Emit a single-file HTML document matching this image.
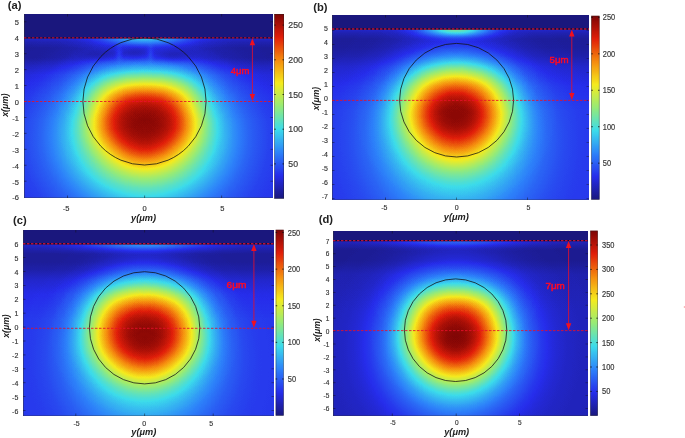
<!DOCTYPE html>
    <html><head><meta charset="utf-8"><title>Field distributions</title>
    <style>
    html,body{margin:0;padding:0;background:#fff;}
    body{width:685px;height:438px;overflow:hidden;}
    svg{display:block;font-family:"Liberation Sans", Arial, sans-serif;}
    </style></head><body>
    <svg width="685" height="438" viewBox="0 0 685 438">
    <defs>
    <filter id="jet" color-interpolation-filters="sRGB" x="0" y="0" width="1" height="1" filterUnits="objectBoundingBox">
    <feComponentTransfer>
    <feFuncR type="table" tableValues="0.1020 0.1490 0.1765 0.2353 0.5882 0.9608 0.9608 0.8824 0.4902"/>
    <feFuncG type="table" tableValues="0.0941 0.1765 0.5098 0.8627 0.9216 0.9216 0.5490 0.1176 0.0196"/>
    <feFuncB type="table" tableValues="0.4902 0.9216 0.9804 0.9216 0.4706 0.1176 0.0588 0.0392 0.0196"/>
    </feComponentTransfer>
    </filter>
    <clipPath id="cpa"><rect x="24.00" y="14.00" width="249.00" height="184.00"/></clipPath>
<linearGradient id="fla" gradientUnits="userSpaceOnUse" x1="0" y1="14.00" x2="0" y2="198.00"><stop offset="0.1299" stop-color="rgb(23,23,23)"/><stop offset="0.1522" stop-color="rgb(15,15,15)"/><stop offset="0.1848" stop-color="rgb(8,8,8)"/><stop offset="0.2391" stop-color="rgb(8,8,8)"/><stop offset="0.2826" stop-color="rgb(18,18,18)"/><stop offset="0.3315" stop-color="rgb(26,26,26)"/><stop offset="0.4402" stop-color="rgb(31,31,31)"/><stop offset="0.5761" stop-color="rgb(34,34,34)"/><stop offset="1.0022" stop-color="rgb(34,34,34)"/></linearGradient>
<radialGradient id="rga0" gradientUnits="userSpaceOnUse" cx="0.000" cy="0.280" r="4.000" fx="0.000" fy="0.000" gradientTransform="translate(144.80 130.50) scale(82.610 72.000) translate(0.00 0.00)"><stop offset="0.0000" stop-color="rgb(118,118,118)"/><stop offset="0.0208" stop-color="rgb(118,118,118)"/><stop offset="0.0417" stop-color="rgb(117,117,117)"/><stop offset="0.0625" stop-color="rgb(115,115,115)"/><stop offset="0.0833" stop-color="rgb(112,112,112)"/><stop offset="0.1042" stop-color="rgb(107,107,107)"/><stop offset="0.1250" stop-color="rgb(101,101,101)"/><stop offset="0.1458" stop-color="rgb(93,93,93)"/><stop offset="0.1667" stop-color="rgb(84,84,84)"/><stop offset="0.1875" stop-color="rgb(74,74,74)"/><stop offset="0.2083" stop-color="rgb(64,64,64)"/><stop offset="0.2292" stop-color="rgb(53,53,53)"/><stop offset="0.2500" stop-color="rgb(43,43,43)"/><stop offset="0.2708" stop-color="rgb(34,34,34)"/><stop offset="0.2917" stop-color="rgb(26,26,26)"/><stop offset="0.3125" stop-color="rgb(19,19,19)"/><stop offset="0.3333" stop-color="rgb(14,14,14)"/><stop offset="0.3542" stop-color="rgb(10,10,10)"/><stop offset="0.3750" stop-color="rgb(6,6,6)"/><stop offset="0.3958" stop-color="rgb(4,4,4)"/><stop offset="0.4167" stop-color="rgb(2,2,2)"/><stop offset="0.4375" stop-color="rgb(1,1,1)"/><stop offset="0.4583" stop-color="rgb(1,1,1)"/><stop offset="0.4792" stop-color="rgb(0,0,0)"/><stop offset="0.5000" stop-color="rgb(0,0,0)"/><stop offset="0.5208" stop-color="rgb(0,0,0)"/><stop offset="0.5417" stop-color="rgb(0,0,0)"/><stop offset="0.5625" stop-color="rgb(0,0,0)"/><stop offset="0.5833" stop-color="rgb(0,0,0)"/><stop offset="0.6042" stop-color="rgb(0,0,0)"/><stop offset="0.6250" stop-color="rgb(0,0,0)"/><stop offset="0.6458" stop-color="rgb(0,0,0)"/><stop offset="0.6667" stop-color="rgb(0,0,0)"/><stop offset="0.6875" stop-color="rgb(0,0,0)"/><stop offset="0.7083" stop-color="rgb(0,0,0)"/><stop offset="0.7292" stop-color="rgb(0,0,0)"/><stop offset="0.7500" stop-color="rgb(0,0,0)"/><stop offset="0.7708" stop-color="rgb(0,0,0)"/><stop offset="0.7917" stop-color="rgb(0,0,0)"/><stop offset="0.8125" stop-color="rgb(0,0,0)"/><stop offset="0.8333" stop-color="rgb(0,0,0)"/><stop offset="0.8542" stop-color="rgb(0,0,0)"/><stop offset="0.8750" stop-color="rgb(0,0,0)"/><stop offset="0.8958" stop-color="rgb(0,0,0)"/><stop offset="0.9167" stop-color="rgb(0,0,0)"/><stop offset="0.9375" stop-color="rgb(0,0,0)"/><stop offset="0.9583" stop-color="rgb(0,0,0)"/><stop offset="0.9792" stop-color="rgb(0,0,0)"/><stop offset="1.0000" stop-color="rgb(0,0,0)"/></radialGradient>
<radialGradient id="rga1" gradientUnits="userSpaceOnUse" cx="0.000" cy="0.000" r="4.000" fx="0.000" fy="0.000" gradientTransform="translate(144.80 123.50) scale(51.000 41.000) translate(0.00 0.00)"><stop offset="0.0000" stop-color="rgb(98,98,98)"/><stop offset="0.0208" stop-color="rgb(98,98,98)"/><stop offset="0.0417" stop-color="rgb(98,98,98)"/><stop offset="0.0625" stop-color="rgb(97,97,97)"/><stop offset="0.0833" stop-color="rgb(95,95,95)"/><stop offset="0.1042" stop-color="rgb(92,92,92)"/><stop offset="0.1250" stop-color="rgb(88,88,88)"/><stop offset="0.1458" stop-color="rgb(82,82,82)"/><stop offset="0.1667" stop-color="rgb(75,75,75)"/><stop offset="0.1875" stop-color="rgb(66,66,66)"/><stop offset="0.2083" stop-color="rgb(56,56,56)"/><stop offset="0.2292" stop-color="rgb(46,46,46)"/><stop offset="0.2500" stop-color="rgb(36,36,36)"/><stop offset="0.2708" stop-color="rgb(27,27,27)"/><stop offset="0.2917" stop-color="rgb(19,19,19)"/><stop offset="0.3125" stop-color="rgb(13,13,13)"/><stop offset="0.3333" stop-color="rgb(8,8,8)"/><stop offset="0.3542" stop-color="rgb(5,5,5)"/><stop offset="0.3750" stop-color="rgb(3,3,3)"/><stop offset="0.3958" stop-color="rgb(1,1,1)"/><stop offset="0.4167" stop-color="rgb(1,1,1)"/><stop offset="0.4375" stop-color="rgb(0,0,0)"/><stop offset="0.4583" stop-color="rgb(0,0,0)"/><stop offset="0.4792" stop-color="rgb(0,0,0)"/><stop offset="0.5000" stop-color="rgb(0,0,0)"/><stop offset="0.5208" stop-color="rgb(0,0,0)"/><stop offset="0.5417" stop-color="rgb(0,0,0)"/><stop offset="0.5625" stop-color="rgb(0,0,0)"/><stop offset="0.5833" stop-color="rgb(0,0,0)"/><stop offset="0.6042" stop-color="rgb(0,0,0)"/><stop offset="0.6250" stop-color="rgb(0,0,0)"/><stop offset="0.6458" stop-color="rgb(0,0,0)"/><stop offset="0.6667" stop-color="rgb(0,0,0)"/><stop offset="0.6875" stop-color="rgb(0,0,0)"/><stop offset="0.7083" stop-color="rgb(0,0,0)"/><stop offset="0.7292" stop-color="rgb(0,0,0)"/><stop offset="0.7500" stop-color="rgb(0,0,0)"/><stop offset="0.7708" stop-color="rgb(0,0,0)"/><stop offset="0.7917" stop-color="rgb(0,0,0)"/><stop offset="0.8125" stop-color="rgb(0,0,0)"/><stop offset="0.8333" stop-color="rgb(0,0,0)"/><stop offset="0.8542" stop-color="rgb(0,0,0)"/><stop offset="0.8750" stop-color="rgb(0,0,0)"/><stop offset="0.8958" stop-color="rgb(0,0,0)"/><stop offset="0.9167" stop-color="rgb(0,0,0)"/><stop offset="0.9375" stop-color="rgb(0,0,0)"/><stop offset="0.9583" stop-color="rgb(0,0,0)"/><stop offset="0.9792" stop-color="rgb(0,0,0)"/><stop offset="1.0000" stop-color="rgb(0,0,0)"/></radialGradient>
<radialGradient id="rgap0" gradientUnits="userSpaceOnUse" cx="0" cy="0" r="4.000" gradientTransform="translate(108.80 88.60) scale(30.000 22.000)"><stop offset="0.0000" stop-color="rgb(19,19,19)"/><stop offset="0.0312" stop-color="rgb(19,19,19)"/><stop offset="0.0625" stop-color="rgb(18,18,18)"/><stop offset="0.0938" stop-color="rgb(17,17,17)"/><stop offset="0.1250" stop-color="rgb(15,15,15)"/><stop offset="0.1562" stop-color="rgb(13,13,13)"/><stop offset="0.1875" stop-color="rgb(11,11,11)"/><stop offset="0.2188" stop-color="rgb(9,9,9)"/><stop offset="0.2500" stop-color="rgb(7,7,7)"/><stop offset="0.2812" stop-color="rgb(5,5,5)"/><stop offset="0.3125" stop-color="rgb(4,4,4)"/><stop offset="0.3438" stop-color="rgb(3,3,3)"/><stop offset="0.3750" stop-color="rgb(2,2,2)"/><stop offset="0.4062" stop-color="rgb(1,1,1)"/><stop offset="0.4375" stop-color="rgb(1,1,1)"/><stop offset="0.4688" stop-color="rgb(1,1,1)"/><stop offset="0.5000" stop-color="rgb(0,0,0)"/><stop offset="0.5312" stop-color="rgb(0,0,0)"/><stop offset="0.5625" stop-color="rgb(0,0,0)"/><stop offset="0.5938" stop-color="rgb(0,0,0)"/><stop offset="0.6250" stop-color="rgb(0,0,0)"/><stop offset="0.6562" stop-color="rgb(0,0,0)"/><stop offset="0.6875" stop-color="rgb(0,0,0)"/><stop offset="0.7188" stop-color="rgb(0,0,0)"/><stop offset="0.7500" stop-color="rgb(0,0,0)"/><stop offset="0.7812" stop-color="rgb(0,0,0)"/><stop offset="0.8125" stop-color="rgb(0,0,0)"/><stop offset="0.8438" stop-color="rgb(0,0,0)"/><stop offset="0.8750" stop-color="rgb(0,0,0)"/><stop offset="0.9062" stop-color="rgb(0,0,0)"/><stop offset="0.9375" stop-color="rgb(0,0,0)"/><stop offset="0.9688" stop-color="rgb(0,0,0)"/><stop offset="1.0000" stop-color="rgb(0,0,0)"/></radialGradient>
<radialGradient id="rgap1" gradientUnits="userSpaceOnUse" cx="0" cy="0" r="4.000" gradientTransform="translate(180.80 88.60) scale(30.000 22.000)"><stop offset="0.0000" stop-color="rgb(19,19,19)"/><stop offset="0.0312" stop-color="rgb(19,19,19)"/><stop offset="0.0625" stop-color="rgb(18,18,18)"/><stop offset="0.0938" stop-color="rgb(17,17,17)"/><stop offset="0.1250" stop-color="rgb(15,15,15)"/><stop offset="0.1562" stop-color="rgb(13,13,13)"/><stop offset="0.1875" stop-color="rgb(11,11,11)"/><stop offset="0.2188" stop-color="rgb(9,9,9)"/><stop offset="0.2500" stop-color="rgb(7,7,7)"/><stop offset="0.2812" stop-color="rgb(5,5,5)"/><stop offset="0.3125" stop-color="rgb(4,4,4)"/><stop offset="0.3438" stop-color="rgb(3,3,3)"/><stop offset="0.3750" stop-color="rgb(2,2,2)"/><stop offset="0.4062" stop-color="rgb(1,1,1)"/><stop offset="0.4375" stop-color="rgb(1,1,1)"/><stop offset="0.4688" stop-color="rgb(1,1,1)"/><stop offset="0.5000" stop-color="rgb(0,0,0)"/><stop offset="0.5312" stop-color="rgb(0,0,0)"/><stop offset="0.5625" stop-color="rgb(0,0,0)"/><stop offset="0.5938" stop-color="rgb(0,0,0)"/><stop offset="0.6250" stop-color="rgb(0,0,0)"/><stop offset="0.6562" stop-color="rgb(0,0,0)"/><stop offset="0.6875" stop-color="rgb(0,0,0)"/><stop offset="0.7188" stop-color="rgb(0,0,0)"/><stop offset="0.7500" stop-color="rgb(0,0,0)"/><stop offset="0.7812" stop-color="rgb(0,0,0)"/><stop offset="0.8125" stop-color="rgb(0,0,0)"/><stop offset="0.8438" stop-color="rgb(0,0,0)"/><stop offset="0.8750" stop-color="rgb(0,0,0)"/><stop offset="0.9062" stop-color="rgb(0,0,0)"/><stop offset="0.9375" stop-color="rgb(0,0,0)"/><stop offset="0.9688" stop-color="rgb(0,0,0)"/><stop offset="1.0000" stop-color="rgb(0,0,0)"/></radialGradient>
<radialGradient id="rgap2" gradientUnits="userSpaceOnUse" cx="0" cy="0" r="4.000" gradientTransform="translate(108.80 148.60) scale(30.000 18.000)"><stop offset="0.0000" stop-color="#000" stop-opacity="0.040"/><stop offset="0.0312" stop-color="#000" stop-opacity="0.039"/><stop offset="0.0625" stop-color="#000" stop-opacity="0.038"/><stop offset="0.0938" stop-color="#000" stop-opacity="0.035"/><stop offset="0.1250" stop-color="#000" stop-opacity="0.031"/><stop offset="0.1562" stop-color="#000" stop-opacity="0.027"/><stop offset="0.1875" stop-color="#000" stop-opacity="0.023"/><stop offset="0.2188" stop-color="#000" stop-opacity="0.019"/><stop offset="0.2500" stop-color="#000" stop-opacity="0.015"/><stop offset="0.2812" stop-color="#000" stop-opacity="0.011"/><stop offset="0.3125" stop-color="#000" stop-opacity="0.008"/><stop offset="0.3438" stop-color="#000" stop-opacity="0.006"/><stop offset="0.3750" stop-color="#000" stop-opacity="0.004"/><stop offset="0.4062" stop-color="#000" stop-opacity="0.003"/><stop offset="0.4375" stop-color="#000" stop-opacity="0.002"/><stop offset="0.4688" stop-color="#000" stop-opacity="0.001"/><stop offset="0.5000" stop-color="#000" stop-opacity="0.001"/><stop offset="0.5312" stop-color="#000" stop-opacity="0.000"/><stop offset="0.5625" stop-color="#000" stop-opacity="0.000"/><stop offset="0.5938" stop-color="#000" stop-opacity="0.000"/><stop offset="0.6250" stop-color="#000" stop-opacity="0.000"/><stop offset="0.6562" stop-color="#000" stop-opacity="0.000"/><stop offset="0.6875" stop-color="#000" stop-opacity="0.000"/><stop offset="0.7188" stop-color="#000" stop-opacity="0.000"/><stop offset="0.7500" stop-color="#000" stop-opacity="0.000"/><stop offset="0.7812" stop-color="#000" stop-opacity="0.000"/><stop offset="0.8125" stop-color="#000" stop-opacity="0.000"/><stop offset="0.8438" stop-color="#000" stop-opacity="0.000"/><stop offset="0.8750" stop-color="#000" stop-opacity="0.000"/><stop offset="0.9062" stop-color="#000" stop-opacity="0.000"/><stop offset="0.9375" stop-color="#000" stop-opacity="0.000"/><stop offset="0.9688" stop-color="#000" stop-opacity="0.000"/><stop offset="1.0000" stop-color="#000" stop-opacity="0.000"/></radialGradient>
<radialGradient id="rgap3" gradientUnits="userSpaceOnUse" cx="0" cy="0" r="4.000" gradientTransform="translate(180.80 148.60) scale(30.000 18.000)"><stop offset="0.0000" stop-color="#000" stop-opacity="0.040"/><stop offset="0.0312" stop-color="#000" stop-opacity="0.039"/><stop offset="0.0625" stop-color="#000" stop-opacity="0.038"/><stop offset="0.0938" stop-color="#000" stop-opacity="0.035"/><stop offset="0.1250" stop-color="#000" stop-opacity="0.031"/><stop offset="0.1562" stop-color="#000" stop-opacity="0.027"/><stop offset="0.1875" stop-color="#000" stop-opacity="0.023"/><stop offset="0.2188" stop-color="#000" stop-opacity="0.019"/><stop offset="0.2500" stop-color="#000" stop-opacity="0.015"/><stop offset="0.2812" stop-color="#000" stop-opacity="0.011"/><stop offset="0.3125" stop-color="#000" stop-opacity="0.008"/><stop offset="0.3438" stop-color="#000" stop-opacity="0.006"/><stop offset="0.3750" stop-color="#000" stop-opacity="0.004"/><stop offset="0.4062" stop-color="#000" stop-opacity="0.003"/><stop offset="0.4375" stop-color="#000" stop-opacity="0.002"/><stop offset="0.4688" stop-color="#000" stop-opacity="0.001"/><stop offset="0.5000" stop-color="#000" stop-opacity="0.001"/><stop offset="0.5312" stop-color="#000" stop-opacity="0.000"/><stop offset="0.5625" stop-color="#000" stop-opacity="0.000"/><stop offset="0.5938" stop-color="#000" stop-opacity="0.000"/><stop offset="0.6250" stop-color="#000" stop-opacity="0.000"/><stop offset="0.6562" stop-color="#000" stop-opacity="0.000"/><stop offset="0.6875" stop-color="#000" stop-opacity="0.000"/><stop offset="0.7188" stop-color="#000" stop-opacity="0.000"/><stop offset="0.7500" stop-color="#000" stop-opacity="0.000"/><stop offset="0.7812" stop-color="#000" stop-opacity="0.000"/><stop offset="0.8125" stop-color="#000" stop-opacity="0.000"/><stop offset="0.8438" stop-color="#000" stop-opacity="0.000"/><stop offset="0.8750" stop-color="#000" stop-opacity="0.000"/><stop offset="0.9062" stop-color="#000" stop-opacity="0.000"/><stop offset="0.9375" stop-color="#000" stop-opacity="0.000"/><stop offset="0.9688" stop-color="#000" stop-opacity="0.000"/><stop offset="1.0000" stop-color="#000" stop-opacity="0.000"/></radialGradient>
<radialGradient id="rgap4" gradientUnits="userSpaceOnUse" cx="0" cy="0" r="4.000" gradientTransform="translate(144.80 54.00) scale(70.000 7.000)"><stop offset="0.0000" stop-color="#000" stop-opacity="0.220"/><stop offset="0.0312" stop-color="#000" stop-opacity="0.219"/><stop offset="0.0625" stop-color="#000" stop-opacity="0.213"/><stop offset="0.0938" stop-color="#000" stop-opacity="0.202"/><stop offset="0.1250" stop-color="#000" stop-opacity="0.184"/><stop offset="0.1562" stop-color="#000" stop-opacity="0.162"/><stop offset="0.1875" stop-color="#000" stop-opacity="0.135"/><stop offset="0.2188" stop-color="#000" stop-opacity="0.107"/><stop offset="0.2500" stop-color="#000" stop-opacity="0.081"/><stop offset="0.2812" stop-color="#000" stop-opacity="0.057"/><stop offset="0.3125" stop-color="#000" stop-opacity="0.038"/><stop offset="0.3438" stop-color="#000" stop-opacity="0.024"/><stop offset="0.3750" stop-color="#000" stop-opacity="0.014"/><stop offset="0.4062" stop-color="#000" stop-opacity="0.008"/><stop offset="0.4375" stop-color="#000" stop-opacity="0.004"/><stop offset="0.4688" stop-color="#000" stop-opacity="0.002"/><stop offset="0.5000" stop-color="#000" stop-opacity="0.001"/><stop offset="0.5312" stop-color="#000" stop-opacity="0.000"/><stop offset="0.5625" stop-color="#000" stop-opacity="0.000"/><stop offset="0.5938" stop-color="#000" stop-opacity="0.000"/><stop offset="0.6250" stop-color="#000" stop-opacity="0.000"/><stop offset="0.6562" stop-color="#000" stop-opacity="0.000"/><stop offset="0.6875" stop-color="#000" stop-opacity="0.000"/><stop offset="0.7188" stop-color="#000" stop-opacity="0.000"/><stop offset="0.7500" stop-color="#000" stop-opacity="0.000"/><stop offset="0.7812" stop-color="#000" stop-opacity="0.000"/><stop offset="0.8125" stop-color="#000" stop-opacity="0.000"/><stop offset="0.8438" stop-color="#000" stop-opacity="0.000"/><stop offset="0.8750" stop-color="#000" stop-opacity="0.000"/><stop offset="0.9062" stop-color="#000" stop-opacity="0.000"/><stop offset="0.9375" stop-color="#000" stop-opacity="0.000"/><stop offset="0.9688" stop-color="#000" stop-opacity="0.000"/><stop offset="1.0000" stop-color="#000" stop-opacity="0.000"/></radialGradient>
<radialGradient id="rgap5" gradientUnits="userSpaceOnUse" cx="0" cy="0" r="4.000" gradientTransform="translate(99.00 54.50) scale(16.000 5.000)"><stop offset="0.0000" stop-color="#000" stop-opacity="0.300"/><stop offset="0.0312" stop-color="#000" stop-opacity="0.295"/><stop offset="0.0625" stop-color="#000" stop-opacity="0.282"/><stop offset="0.0938" stop-color="#000" stop-opacity="0.261"/><stop offset="0.1250" stop-color="#000" stop-opacity="0.234"/><stop offset="0.1562" stop-color="#000" stop-opacity="0.203"/><stop offset="0.1875" stop-color="#000" stop-opacity="0.171"/><stop offset="0.2188" stop-color="#000" stop-opacity="0.140"/><stop offset="0.2500" stop-color="#000" stop-opacity="0.110"/><stop offset="0.2812" stop-color="#000" stop-opacity="0.085"/><stop offset="0.3125" stop-color="#000" stop-opacity="0.063"/><stop offset="0.3438" stop-color="#000" stop-opacity="0.045"/><stop offset="0.3750" stop-color="#000" stop-opacity="0.032"/><stop offset="0.4062" stop-color="#000" stop-opacity="0.021"/><stop offset="0.4375" stop-color="#000" stop-opacity="0.014"/><stop offset="0.4688" stop-color="#000" stop-opacity="0.009"/><stop offset="0.5000" stop-color="#000" stop-opacity="0.005"/><stop offset="0.5312" stop-color="#000" stop-opacity="0.003"/><stop offset="0.5625" stop-color="#000" stop-opacity="0.002"/><stop offset="0.5938" stop-color="#000" stop-opacity="0.001"/><stop offset="0.6250" stop-color="#000" stop-opacity="0.001"/><stop offset="0.6562" stop-color="#000" stop-opacity="0.000"/><stop offset="0.6875" stop-color="#000" stop-opacity="0.000"/><stop offset="0.7188" stop-color="#000" stop-opacity="0.000"/><stop offset="0.7500" stop-color="#000" stop-opacity="0.000"/><stop offset="0.7812" stop-color="#000" stop-opacity="0.000"/><stop offset="0.8125" stop-color="#000" stop-opacity="0.000"/><stop offset="0.8438" stop-color="#000" stop-opacity="0.000"/><stop offset="0.8750" stop-color="#000" stop-opacity="0.000"/><stop offset="0.9062" stop-color="#000" stop-opacity="0.000"/><stop offset="0.9375" stop-color="#000" stop-opacity="0.000"/><stop offset="0.9688" stop-color="#000" stop-opacity="0.000"/><stop offset="1.0000" stop-color="#000" stop-opacity="0.000"/></radialGradient>
<radialGradient id="rgap6" gradientUnits="userSpaceOnUse" cx="0" cy="0" r="4.000" gradientTransform="translate(135.00 52.50) scale(12.000 5.000)"><stop offset="0.0000" stop-color="#000" stop-opacity="0.350"/><stop offset="0.0312" stop-color="#000" stop-opacity="0.345"/><stop offset="0.0625" stop-color="#000" stop-opacity="0.329"/><stop offset="0.0938" stop-color="#000" stop-opacity="0.304"/><stop offset="0.1250" stop-color="#000" stop-opacity="0.273"/><stop offset="0.1562" stop-color="#000" stop-opacity="0.237"/><stop offset="0.1875" stop-color="#000" stop-opacity="0.199"/><stop offset="0.2188" stop-color="#000" stop-opacity="0.163"/><stop offset="0.2500" stop-color="#000" stop-opacity="0.129"/><stop offset="0.2812" stop-color="#000" stop-opacity="0.099"/><stop offset="0.3125" stop-color="#000" stop-opacity="0.073"/><stop offset="0.3438" stop-color="#000" stop-opacity="0.053"/><stop offset="0.3750" stop-color="#000" stop-opacity="0.037"/><stop offset="0.4062" stop-color="#000" stop-opacity="0.025"/><stop offset="0.4375" stop-color="#000" stop-opacity="0.016"/><stop offset="0.4688" stop-color="#000" stop-opacity="0.010"/><stop offset="0.5000" stop-color="#000" stop-opacity="0.006"/><stop offset="0.5312" stop-color="#000" stop-opacity="0.004"/><stop offset="0.5625" stop-color="#000" stop-opacity="0.002"/><stop offset="0.5938" stop-color="#000" stop-opacity="0.001"/><stop offset="0.6250" stop-color="#000" stop-opacity="0.001"/><stop offset="0.6562" stop-color="#000" stop-opacity="0.000"/><stop offset="0.6875" stop-color="#000" stop-opacity="0.000"/><stop offset="0.7188" stop-color="#000" stop-opacity="0.000"/><stop offset="0.7500" stop-color="#000" stop-opacity="0.000"/><stop offset="0.7812" stop-color="#000" stop-opacity="0.000"/><stop offset="0.8125" stop-color="#000" stop-opacity="0.000"/><stop offset="0.8438" stop-color="#000" stop-opacity="0.000"/><stop offset="0.8750" stop-color="#000" stop-opacity="0.000"/><stop offset="0.9062" stop-color="#000" stop-opacity="0.000"/><stop offset="0.9375" stop-color="#000" stop-opacity="0.000"/><stop offset="0.9688" stop-color="#000" stop-opacity="0.000"/><stop offset="1.0000" stop-color="#000" stop-opacity="0.000"/></radialGradient>
<radialGradient id="rgap7" gradientUnits="userSpaceOnUse" cx="0" cy="0" r="4.000" gradientTransform="translate(173.00 55.50) scale(16.000 5.500)"><stop offset="0.0000" stop-color="#000" stop-opacity="0.350"/><stop offset="0.0312" stop-color="#000" stop-opacity="0.345"/><stop offset="0.0625" stop-color="#000" stop-opacity="0.329"/><stop offset="0.0938" stop-color="#000" stop-opacity="0.304"/><stop offset="0.1250" stop-color="#000" stop-opacity="0.273"/><stop offset="0.1562" stop-color="#000" stop-opacity="0.237"/><stop offset="0.1875" stop-color="#000" stop-opacity="0.199"/><stop offset="0.2188" stop-color="#000" stop-opacity="0.163"/><stop offset="0.2500" stop-color="#000" stop-opacity="0.129"/><stop offset="0.2812" stop-color="#000" stop-opacity="0.099"/><stop offset="0.3125" stop-color="#000" stop-opacity="0.073"/><stop offset="0.3438" stop-color="#000" stop-opacity="0.053"/><stop offset="0.3750" stop-color="#000" stop-opacity="0.037"/><stop offset="0.4062" stop-color="#000" stop-opacity="0.025"/><stop offset="0.4375" stop-color="#000" stop-opacity="0.016"/><stop offset="0.4688" stop-color="#000" stop-opacity="0.010"/><stop offset="0.5000" stop-color="#000" stop-opacity="0.006"/><stop offset="0.5312" stop-color="#000" stop-opacity="0.004"/><stop offset="0.5625" stop-color="#000" stop-opacity="0.002"/><stop offset="0.5938" stop-color="#000" stop-opacity="0.001"/><stop offset="0.6250" stop-color="#000" stop-opacity="0.001"/><stop offset="0.6562" stop-color="#000" stop-opacity="0.000"/><stop offset="0.6875" stop-color="#000" stop-opacity="0.000"/><stop offset="0.7188" stop-color="#000" stop-opacity="0.000"/><stop offset="0.7500" stop-color="#000" stop-opacity="0.000"/><stop offset="0.7812" stop-color="#000" stop-opacity="0.000"/><stop offset="0.8125" stop-color="#000" stop-opacity="0.000"/><stop offset="0.8438" stop-color="#000" stop-opacity="0.000"/><stop offset="0.8750" stop-color="#000" stop-opacity="0.000"/><stop offset="0.9062" stop-color="#000" stop-opacity="0.000"/><stop offset="0.9375" stop-color="#000" stop-opacity="0.000"/><stop offset="0.9688" stop-color="#000" stop-opacity="0.000"/><stop offset="1.0000" stop-color="#000" stop-opacity="0.000"/></radialGradient>
<radialGradient id="rgap8" gradientUnits="userSpaceOnUse" cx="0" cy="0" r="4.000" gradientTransform="translate(144.80 38.50) scale(40.000 6.500)"><stop offset="0.0000" stop-color="rgb(51,51,51)"/><stop offset="0.0312" stop-color="rgb(50,50,50)"/><stop offset="0.0625" stop-color="rgb(48,48,48)"/><stop offset="0.0938" stop-color="rgb(44,44,44)"/><stop offset="0.1250" stop-color="rgb(40,40,40)"/><stop offset="0.1562" stop-color="rgb(35,35,35)"/><stop offset="0.1875" stop-color="rgb(29,29,29)"/><stop offset="0.2188" stop-color="rgb(24,24,24)"/><stop offset="0.2500" stop-color="rgb(19,19,19)"/><stop offset="0.2812" stop-color="rgb(14,14,14)"/><stop offset="0.3125" stop-color="rgb(11,11,11)"/><stop offset="0.3438" stop-color="rgb(8,8,8)"/><stop offset="0.3750" stop-color="rgb(5,5,5)"/><stop offset="0.4062" stop-color="rgb(4,4,4)"/><stop offset="0.4375" stop-color="rgb(2,2,2)"/><stop offset="0.4688" stop-color="rgb(2,2,2)"/><stop offset="0.5000" stop-color="rgb(1,1,1)"/><stop offset="0.5312" stop-color="rgb(1,1,1)"/><stop offset="0.5625" stop-color="rgb(0,0,0)"/><stop offset="0.5938" stop-color="rgb(0,0,0)"/><stop offset="0.6250" stop-color="rgb(0,0,0)"/><stop offset="0.6562" stop-color="rgb(0,0,0)"/><stop offset="0.6875" stop-color="rgb(0,0,0)"/><stop offset="0.7188" stop-color="rgb(0,0,0)"/><stop offset="0.7500" stop-color="rgb(0,0,0)"/><stop offset="0.7812" stop-color="rgb(0,0,0)"/><stop offset="0.8125" stop-color="rgb(0,0,0)"/><stop offset="0.8438" stop-color="rgb(0,0,0)"/><stop offset="0.8750" stop-color="rgb(0,0,0)"/><stop offset="0.9062" stop-color="rgb(0,0,0)"/><stop offset="0.9375" stop-color="rgb(0,0,0)"/><stop offset="0.9688" stop-color="rgb(0,0,0)"/><stop offset="1.0000" stop-color="rgb(0,0,0)"/></radialGradient>
<radialGradient id="rgap9" gradientUnits="userSpaceOnUse" cx="0" cy="0" r="4.000" gradientTransform="translate(119.00 53.50) scale(3.000 7.000)"><stop offset="0.0000" stop-color="rgb(13,13,13)"/><stop offset="0.0312" stop-color="rgb(13,13,13)"/><stop offset="0.0625" stop-color="rgb(12,12,12)"/><stop offset="0.0938" stop-color="rgb(11,11,11)"/><stop offset="0.1250" stop-color="rgb(10,10,10)"/><stop offset="0.1562" stop-color="rgb(9,9,9)"/><stop offset="0.1875" stop-color="rgb(7,7,7)"/><stop offset="0.2188" stop-color="rgb(6,6,6)"/><stop offset="0.2500" stop-color="rgb(5,5,5)"/><stop offset="0.2812" stop-color="rgb(4,4,4)"/><stop offset="0.3125" stop-color="rgb(3,3,3)"/><stop offset="0.3438" stop-color="rgb(2,2,2)"/><stop offset="0.3750" stop-color="rgb(1,1,1)"/><stop offset="0.4062" stop-color="rgb(1,1,1)"/><stop offset="0.4375" stop-color="rgb(1,1,1)"/><stop offset="0.4688" stop-color="rgb(0,0,0)"/><stop offset="0.5000" stop-color="rgb(0,0,0)"/><stop offset="0.5312" stop-color="rgb(0,0,0)"/><stop offset="0.5625" stop-color="rgb(0,0,0)"/><stop offset="0.5938" stop-color="rgb(0,0,0)"/><stop offset="0.6250" stop-color="rgb(0,0,0)"/><stop offset="0.6562" stop-color="rgb(0,0,0)"/><stop offset="0.6875" stop-color="rgb(0,0,0)"/><stop offset="0.7188" stop-color="rgb(0,0,0)"/><stop offset="0.7500" stop-color="rgb(0,0,0)"/><stop offset="0.7812" stop-color="rgb(0,0,0)"/><stop offset="0.8125" stop-color="rgb(0,0,0)"/><stop offset="0.8438" stop-color="rgb(0,0,0)"/><stop offset="0.8750" stop-color="rgb(0,0,0)"/><stop offset="0.9062" stop-color="rgb(0,0,0)"/><stop offset="0.9375" stop-color="rgb(0,0,0)"/><stop offset="0.9688" stop-color="rgb(0,0,0)"/><stop offset="1.0000" stop-color="rgb(0,0,0)"/></radialGradient>
<radialGradient id="rgap10" gradientUnits="userSpaceOnUse" cx="0" cy="0" r="4.000" gradientTransform="translate(150.50 53.50) scale(3.000 7.000)"><stop offset="0.0000" stop-color="rgb(13,13,13)"/><stop offset="0.0312" stop-color="rgb(13,13,13)"/><stop offset="0.0625" stop-color="rgb(12,12,12)"/><stop offset="0.0938" stop-color="rgb(11,11,11)"/><stop offset="0.1250" stop-color="rgb(10,10,10)"/><stop offset="0.1562" stop-color="rgb(9,9,9)"/><stop offset="0.1875" stop-color="rgb(7,7,7)"/><stop offset="0.2188" stop-color="rgb(6,6,6)"/><stop offset="0.2500" stop-color="rgb(5,5,5)"/><stop offset="0.2812" stop-color="rgb(4,4,4)"/><stop offset="0.3125" stop-color="rgb(3,3,3)"/><stop offset="0.3438" stop-color="rgb(2,2,2)"/><stop offset="0.3750" stop-color="rgb(1,1,1)"/><stop offset="0.4062" stop-color="rgb(1,1,1)"/><stop offset="0.4375" stop-color="rgb(1,1,1)"/><stop offset="0.4688" stop-color="rgb(0,0,0)"/><stop offset="0.5000" stop-color="rgb(0,0,0)"/><stop offset="0.5312" stop-color="rgb(0,0,0)"/><stop offset="0.5625" stop-color="rgb(0,0,0)"/><stop offset="0.5938" stop-color="rgb(0,0,0)"/><stop offset="0.6250" stop-color="rgb(0,0,0)"/><stop offset="0.6562" stop-color="rgb(0,0,0)"/><stop offset="0.6875" stop-color="rgb(0,0,0)"/><stop offset="0.7188" stop-color="rgb(0,0,0)"/><stop offset="0.7500" stop-color="rgb(0,0,0)"/><stop offset="0.7812" stop-color="rgb(0,0,0)"/><stop offset="0.8125" stop-color="rgb(0,0,0)"/><stop offset="0.8438" stop-color="rgb(0,0,0)"/><stop offset="0.8750" stop-color="rgb(0,0,0)"/><stop offset="0.9062" stop-color="rgb(0,0,0)"/><stop offset="0.9375" stop-color="rgb(0,0,0)"/><stop offset="0.9688" stop-color="rgb(0,0,0)"/><stop offset="1.0000" stop-color="rgb(0,0,0)"/></radialGradient>
<linearGradient id="cba" x1="0" y1="1" x2="0" y2="0"><stop offset="0" stop-color="#000"/><stop offset="1" stop-color="#fff"/></linearGradient>
<clipPath id="cpb"><rect x="332.00" y="15.00" width="257.00" height="185.00"/></clipPath>
<linearGradient id="flb" gradientUnits="userSpaceOnUse" x1="0" y1="15.00" x2="0" y2="200.00"><stop offset="0.0757" stop-color="rgb(23,23,23)"/><stop offset="0.0973" stop-color="rgb(15,15,15)"/><stop offset="0.1297" stop-color="rgb(8,8,8)"/><stop offset="0.1784" stop-color="rgb(9,9,9)"/><stop offset="0.2270" stop-color="rgb(14,14,14)"/><stop offset="0.2757" stop-color="rgb(22,22,22)"/><stop offset="0.3784" stop-color="rgb(31,31,31)"/><stop offset="0.5135" stop-color="rgb(36,36,36)"/><stop offset="1.0000" stop-color="rgb(36,36,36)"/></linearGradient>
<radialGradient id="rgb0" gradientUnits="userSpaceOnUse" cx="0.000" cy="0.480" r="4.000" fx="0.000" fy="0.000" gradientTransform="translate(455.80 124.50) scale(78.000 82.000) translate(0.00 0.00)"><stop offset="0.0000" stop-color="rgb(79,79,79)"/><stop offset="0.0208" stop-color="rgb(78,78,78)"/><stop offset="0.0417" stop-color="rgb(78,78,78)"/><stop offset="0.0625" stop-color="rgb(77,77,77)"/><stop offset="0.0833" stop-color="rgb(75,75,75)"/><stop offset="0.1042" stop-color="rgb(72,72,72)"/><stop offset="0.1250" stop-color="rgb(67,67,67)"/><stop offset="0.1458" stop-color="rgb(62,62,62)"/><stop offset="0.1667" stop-color="rgb(56,56,56)"/><stop offset="0.1875" stop-color="rgb(50,50,50)"/><stop offset="0.2083" stop-color="rgb(43,43,43)"/><stop offset="0.2292" stop-color="rgb(36,36,36)"/><stop offset="0.2500" stop-color="rgb(29,29,29)"/><stop offset="0.2708" stop-color="rgb(23,23,23)"/><stop offset="0.2917" stop-color="rgb(17,17,17)"/><stop offset="0.3125" stop-color="rgb(13,13,13)"/><stop offset="0.3333" stop-color="rgb(9,9,9)"/><stop offset="0.3542" stop-color="rgb(6,6,6)"/><stop offset="0.3750" stop-color="rgb(4,4,4)"/><stop offset="0.3958" stop-color="rgb(2,2,2)"/><stop offset="0.4167" stop-color="rgb(1,1,1)"/><stop offset="0.4375" stop-color="rgb(1,1,1)"/><stop offset="0.4583" stop-color="rgb(0,0,0)"/><stop offset="0.4792" stop-color="rgb(0,0,0)"/><stop offset="0.5000" stop-color="rgb(0,0,0)"/><stop offset="0.5208" stop-color="rgb(0,0,0)"/><stop offset="0.5417" stop-color="rgb(0,0,0)"/><stop offset="0.5625" stop-color="rgb(0,0,0)"/><stop offset="0.5833" stop-color="rgb(0,0,0)"/><stop offset="0.6042" stop-color="rgb(0,0,0)"/><stop offset="0.6250" stop-color="rgb(0,0,0)"/><stop offset="0.6458" stop-color="rgb(0,0,0)"/><stop offset="0.6667" stop-color="rgb(0,0,0)"/><stop offset="0.6875" stop-color="rgb(0,0,0)"/><stop offset="0.7083" stop-color="rgb(0,0,0)"/><stop offset="0.7292" stop-color="rgb(0,0,0)"/><stop offset="0.7500" stop-color="rgb(0,0,0)"/><stop offset="0.7708" stop-color="rgb(0,0,0)"/><stop offset="0.7917" stop-color="rgb(0,0,0)"/><stop offset="0.8125" stop-color="rgb(0,0,0)"/><stop offset="0.8333" stop-color="rgb(0,0,0)"/><stop offset="0.8542" stop-color="rgb(0,0,0)"/><stop offset="0.8750" stop-color="rgb(0,0,0)"/><stop offset="0.8958" stop-color="rgb(0,0,0)"/><stop offset="0.9167" stop-color="rgb(0,0,0)"/><stop offset="0.9375" stop-color="rgb(0,0,0)"/><stop offset="0.9583" stop-color="rgb(0,0,0)"/><stop offset="0.9792" stop-color="rgb(0,0,0)"/><stop offset="1.0000" stop-color="rgb(0,0,0)"/></radialGradient>
<radialGradient id="rgb1" gradientUnits="userSpaceOnUse" cx="0.000" cy="0.000" r="4.000" fx="0.000" fy="0.000" gradientTransform="translate(455.80 114.50) scale(50.500 45.500) translate(0.00 0.00)"><stop offset="0.0000" stop-color="rgb(136,136,136)"/><stop offset="0.0208" stop-color="rgb(136,136,136)"/><stop offset="0.0417" stop-color="rgb(135,135,135)"/><stop offset="0.0625" stop-color="rgb(133,133,133)"/><stop offset="0.0833" stop-color="rgb(129,129,129)"/><stop offset="0.1042" stop-color="rgb(123,123,123)"/><stop offset="0.1250" stop-color="rgb(115,115,115)"/><stop offset="0.1458" stop-color="rgb(106,106,106)"/><stop offset="0.1667" stop-color="rgb(96,96,96)"/><stop offset="0.1875" stop-color="rgb(85,85,85)"/><stop offset="0.2083" stop-color="rgb(73,73,73)"/><stop offset="0.2292" stop-color="rgb(61,61,61)"/><stop offset="0.2500" stop-color="rgb(50,50,50)"/><stop offset="0.2708" stop-color="rgb(40,40,40)"/><stop offset="0.2917" stop-color="rgb(31,31,31)"/><stop offset="0.3125" stop-color="rgb(23,23,23)"/><stop offset="0.3333" stop-color="rgb(17,17,17)"/><stop offset="0.3542" stop-color="rgb(12,12,12)"/><stop offset="0.3750" stop-color="rgb(8,8,8)"/><stop offset="0.3958" stop-color="rgb(5,5,5)"/><stop offset="0.4167" stop-color="rgb(3,3,3)"/><stop offset="0.4375" stop-color="rgb(2,2,2)"/><stop offset="0.4583" stop-color="rgb(1,1,1)"/><stop offset="0.4792" stop-color="rgb(1,1,1)"/><stop offset="0.5000" stop-color="rgb(0,0,0)"/><stop offset="0.5208" stop-color="rgb(0,0,0)"/><stop offset="0.5417" stop-color="rgb(0,0,0)"/><stop offset="0.5625" stop-color="rgb(0,0,0)"/><stop offset="0.5833" stop-color="rgb(0,0,0)"/><stop offset="0.6042" stop-color="rgb(0,0,0)"/><stop offset="0.6250" stop-color="rgb(0,0,0)"/><stop offset="0.6458" stop-color="rgb(0,0,0)"/><stop offset="0.6667" stop-color="rgb(0,0,0)"/><stop offset="0.6875" stop-color="rgb(0,0,0)"/><stop offset="0.7083" stop-color="rgb(0,0,0)"/><stop offset="0.7292" stop-color="rgb(0,0,0)"/><stop offset="0.7500" stop-color="rgb(0,0,0)"/><stop offset="0.7708" stop-color="rgb(0,0,0)"/><stop offset="0.7917" stop-color="rgb(0,0,0)"/><stop offset="0.8125" stop-color="rgb(0,0,0)"/><stop offset="0.8333" stop-color="rgb(0,0,0)"/><stop offset="0.8542" stop-color="rgb(0,0,0)"/><stop offset="0.8750" stop-color="rgb(0,0,0)"/><stop offset="0.8958" stop-color="rgb(0,0,0)"/><stop offset="0.9167" stop-color="rgb(0,0,0)"/><stop offset="0.9375" stop-color="rgb(0,0,0)"/><stop offset="0.9583" stop-color="rgb(0,0,0)"/><stop offset="0.9792" stop-color="rgb(0,0,0)"/><stop offset="1.0000" stop-color="rgb(0,0,0)"/></radialGradient>
<radialGradient id="rgbp0" gradientUnits="userSpaceOnUse" cx="0" cy="0" r="4.000" gradientTransform="translate(421.80 80.80) scale(28.000 22.000)"><stop offset="0.0000" stop-color="rgb(9,9,9)"/><stop offset="0.0312" stop-color="rgb(9,9,9)"/><stop offset="0.0625" stop-color="rgb(8,8,8)"/><stop offset="0.0938" stop-color="rgb(8,8,8)"/><stop offset="0.1250" stop-color="rgb(7,7,7)"/><stop offset="0.1562" stop-color="rgb(6,6,6)"/><stop offset="0.1875" stop-color="rgb(5,5,5)"/><stop offset="0.2188" stop-color="rgb(4,4,4)"/><stop offset="0.2500" stop-color="rgb(3,3,3)"/><stop offset="0.2812" stop-color="rgb(3,3,3)"/><stop offset="0.3125" stop-color="rgb(2,2,2)"/><stop offset="0.3438" stop-color="rgb(1,1,1)"/><stop offset="0.3750" stop-color="rgb(1,1,1)"/><stop offset="0.4062" stop-color="rgb(1,1,1)"/><stop offset="0.4375" stop-color="rgb(0,0,0)"/><stop offset="0.4688" stop-color="rgb(0,0,0)"/><stop offset="0.5000" stop-color="rgb(0,0,0)"/><stop offset="0.5312" stop-color="rgb(0,0,0)"/><stop offset="0.5625" stop-color="rgb(0,0,0)"/><stop offset="0.5938" stop-color="rgb(0,0,0)"/><stop offset="0.6250" stop-color="rgb(0,0,0)"/><stop offset="0.6562" stop-color="rgb(0,0,0)"/><stop offset="0.6875" stop-color="rgb(0,0,0)"/><stop offset="0.7188" stop-color="rgb(0,0,0)"/><stop offset="0.7500" stop-color="rgb(0,0,0)"/><stop offset="0.7812" stop-color="rgb(0,0,0)"/><stop offset="0.8125" stop-color="rgb(0,0,0)"/><stop offset="0.8438" stop-color="rgb(0,0,0)"/><stop offset="0.8750" stop-color="rgb(0,0,0)"/><stop offset="0.9062" stop-color="rgb(0,0,0)"/><stop offset="0.9375" stop-color="rgb(0,0,0)"/><stop offset="0.9688" stop-color="rgb(0,0,0)"/><stop offset="1.0000" stop-color="rgb(0,0,0)"/></radialGradient>
<radialGradient id="rgbp1" gradientUnits="userSpaceOnUse" cx="0" cy="0" r="4.000" gradientTransform="translate(489.80 80.80) scale(28.000 22.000)"><stop offset="0.0000" stop-color="rgb(9,9,9)"/><stop offset="0.0312" stop-color="rgb(9,9,9)"/><stop offset="0.0625" stop-color="rgb(8,8,8)"/><stop offset="0.0938" stop-color="rgb(8,8,8)"/><stop offset="0.1250" stop-color="rgb(7,7,7)"/><stop offset="0.1562" stop-color="rgb(6,6,6)"/><stop offset="0.1875" stop-color="rgb(5,5,5)"/><stop offset="0.2188" stop-color="rgb(4,4,4)"/><stop offset="0.2500" stop-color="rgb(3,3,3)"/><stop offset="0.2812" stop-color="rgb(3,3,3)"/><stop offset="0.3125" stop-color="rgb(2,2,2)"/><stop offset="0.3438" stop-color="rgb(1,1,1)"/><stop offset="0.3750" stop-color="rgb(1,1,1)"/><stop offset="0.4062" stop-color="rgb(1,1,1)"/><stop offset="0.4375" stop-color="rgb(0,0,0)"/><stop offset="0.4688" stop-color="rgb(0,0,0)"/><stop offset="0.5000" stop-color="rgb(0,0,0)"/><stop offset="0.5312" stop-color="rgb(0,0,0)"/><stop offset="0.5625" stop-color="rgb(0,0,0)"/><stop offset="0.5938" stop-color="rgb(0,0,0)"/><stop offset="0.6250" stop-color="rgb(0,0,0)"/><stop offset="0.6562" stop-color="rgb(0,0,0)"/><stop offset="0.6875" stop-color="rgb(0,0,0)"/><stop offset="0.7188" stop-color="rgb(0,0,0)"/><stop offset="0.7500" stop-color="rgb(0,0,0)"/><stop offset="0.7812" stop-color="rgb(0,0,0)"/><stop offset="0.8125" stop-color="rgb(0,0,0)"/><stop offset="0.8438" stop-color="rgb(0,0,0)"/><stop offset="0.8750" stop-color="rgb(0,0,0)"/><stop offset="0.9062" stop-color="rgb(0,0,0)"/><stop offset="0.9375" stop-color="rgb(0,0,0)"/><stop offset="0.9688" stop-color="rgb(0,0,0)"/><stop offset="1.0000" stop-color="rgb(0,0,0)"/></radialGradient>
<radialGradient id="rgbp2" gradientUnits="userSpaceOnUse" cx="0" cy="0" r="4.000" gradientTransform="translate(419.80 140.80) scale(30.000 18.000)"><stop offset="0.0000" stop-color="#000" stop-opacity="0.035"/><stop offset="0.0312" stop-color="#000" stop-opacity="0.034"/><stop offset="0.0625" stop-color="#000" stop-opacity="0.033"/><stop offset="0.0938" stop-color="#000" stop-opacity="0.030"/><stop offset="0.1250" stop-color="#000" stop-opacity="0.027"/><stop offset="0.1562" stop-color="#000" stop-opacity="0.024"/><stop offset="0.1875" stop-color="#000" stop-opacity="0.020"/><stop offset="0.2188" stop-color="#000" stop-opacity="0.016"/><stop offset="0.2500" stop-color="#000" stop-opacity="0.013"/><stop offset="0.2812" stop-color="#000" stop-opacity="0.010"/><stop offset="0.3125" stop-color="#000" stop-opacity="0.007"/><stop offset="0.3438" stop-color="#000" stop-opacity="0.005"/><stop offset="0.3750" stop-color="#000" stop-opacity="0.004"/><stop offset="0.4062" stop-color="#000" stop-opacity="0.002"/><stop offset="0.4375" stop-color="#000" stop-opacity="0.002"/><stop offset="0.4688" stop-color="#000" stop-opacity="0.001"/><stop offset="0.5000" stop-color="#000" stop-opacity="0.001"/><stop offset="0.5312" stop-color="#000" stop-opacity="0.000"/><stop offset="0.5625" stop-color="#000" stop-opacity="0.000"/><stop offset="0.5938" stop-color="#000" stop-opacity="0.000"/><stop offset="0.6250" stop-color="#000" stop-opacity="0.000"/><stop offset="0.6562" stop-color="#000" stop-opacity="0.000"/><stop offset="0.6875" stop-color="#000" stop-opacity="0.000"/><stop offset="0.7188" stop-color="#000" stop-opacity="0.000"/><stop offset="0.7500" stop-color="#000" stop-opacity="0.000"/><stop offset="0.7812" stop-color="#000" stop-opacity="0.000"/><stop offset="0.8125" stop-color="#000" stop-opacity="0.000"/><stop offset="0.8438" stop-color="#000" stop-opacity="0.000"/><stop offset="0.8750" stop-color="#000" stop-opacity="0.000"/><stop offset="0.9062" stop-color="#000" stop-opacity="0.000"/><stop offset="0.9375" stop-color="#000" stop-opacity="0.000"/><stop offset="0.9688" stop-color="#000" stop-opacity="0.000"/><stop offset="1.0000" stop-color="#000" stop-opacity="0.000"/></radialGradient>
<radialGradient id="rgbp3" gradientUnits="userSpaceOnUse" cx="0" cy="0" r="4.000" gradientTransform="translate(491.80 140.80) scale(30.000 18.000)"><stop offset="0.0000" stop-color="#000" stop-opacity="0.035"/><stop offset="0.0312" stop-color="#000" stop-opacity="0.034"/><stop offset="0.0625" stop-color="#000" stop-opacity="0.033"/><stop offset="0.0938" stop-color="#000" stop-opacity="0.030"/><stop offset="0.1250" stop-color="#000" stop-opacity="0.027"/><stop offset="0.1562" stop-color="#000" stop-opacity="0.024"/><stop offset="0.1875" stop-color="#000" stop-opacity="0.020"/><stop offset="0.2188" stop-color="#000" stop-opacity="0.016"/><stop offset="0.2500" stop-color="#000" stop-opacity="0.013"/><stop offset="0.2812" stop-color="#000" stop-opacity="0.010"/><stop offset="0.3125" stop-color="#000" stop-opacity="0.007"/><stop offset="0.3438" stop-color="#000" stop-opacity="0.005"/><stop offset="0.3750" stop-color="#000" stop-opacity="0.004"/><stop offset="0.4062" stop-color="#000" stop-opacity="0.002"/><stop offset="0.4375" stop-color="#000" stop-opacity="0.002"/><stop offset="0.4688" stop-color="#000" stop-opacity="0.001"/><stop offset="0.5000" stop-color="#000" stop-opacity="0.001"/><stop offset="0.5312" stop-color="#000" stop-opacity="0.000"/><stop offset="0.5625" stop-color="#000" stop-opacity="0.000"/><stop offset="0.5938" stop-color="#000" stop-opacity="0.000"/><stop offset="0.6250" stop-color="#000" stop-opacity="0.000"/><stop offset="0.6562" stop-color="#000" stop-opacity="0.000"/><stop offset="0.6875" stop-color="#000" stop-opacity="0.000"/><stop offset="0.7188" stop-color="#000" stop-opacity="0.000"/><stop offset="0.7500" stop-color="#000" stop-opacity="0.000"/><stop offset="0.7812" stop-color="#000" stop-opacity="0.000"/><stop offset="0.8125" stop-color="#000" stop-opacity="0.000"/><stop offset="0.8438" stop-color="#000" stop-opacity="0.000"/><stop offset="0.8750" stop-color="#000" stop-opacity="0.000"/><stop offset="0.9062" stop-color="#000" stop-opacity="0.000"/><stop offset="0.9375" stop-color="#000" stop-opacity="0.000"/><stop offset="0.9688" stop-color="#000" stop-opacity="0.000"/><stop offset="1.0000" stop-color="#000" stop-opacity="0.000"/></radialGradient>
<radialGradient id="rgbp4" gradientUnits="userSpaceOnUse" cx="0" cy="0" r="4.000" gradientTransform="translate(456.00 30.00) scale(32.000 6.500)"><stop offset="0.0000" stop-color="rgb(82,82,82)"/><stop offset="0.0312" stop-color="rgb(80,80,80)"/><stop offset="0.0625" stop-color="rgb(77,77,77)"/><stop offset="0.0938" stop-color="rgb(71,71,71)"/><stop offset="0.1250" stop-color="rgb(64,64,64)"/><stop offset="0.1562" stop-color="rgb(55,55,55)"/><stop offset="0.1875" stop-color="rgb(46,46,46)"/><stop offset="0.2188" stop-color="rgb(38,38,38)"/><stop offset="0.2500" stop-color="rgb(30,30,30)"/><stop offset="0.2812" stop-color="rgb(23,23,23)"/><stop offset="0.3125" stop-color="rgb(17,17,17)"/><stop offset="0.3438" stop-color="rgb(12,12,12)"/><stop offset="0.3750" stop-color="rgb(9,9,9)"/><stop offset="0.4062" stop-color="rgb(6,6,6)"/><stop offset="0.4375" stop-color="rgb(4,4,4)"/><stop offset="0.4688" stop-color="rgb(2,2,2)"/><stop offset="0.5000" stop-color="rgb(1,1,1)"/><stop offset="0.5312" stop-color="rgb(1,1,1)"/><stop offset="0.5625" stop-color="rgb(1,1,1)"/><stop offset="0.5938" stop-color="rgb(0,0,0)"/><stop offset="0.6250" stop-color="rgb(0,0,0)"/><stop offset="0.6562" stop-color="rgb(0,0,0)"/><stop offset="0.6875" stop-color="rgb(0,0,0)"/><stop offset="0.7188" stop-color="rgb(0,0,0)"/><stop offset="0.7500" stop-color="rgb(0,0,0)"/><stop offset="0.7812" stop-color="rgb(0,0,0)"/><stop offset="0.8125" stop-color="rgb(0,0,0)"/><stop offset="0.8438" stop-color="rgb(0,0,0)"/><stop offset="0.8750" stop-color="rgb(0,0,0)"/><stop offset="0.9062" stop-color="rgb(0,0,0)"/><stop offset="0.9375" stop-color="rgb(0,0,0)"/><stop offset="0.9688" stop-color="rgb(0,0,0)"/><stop offset="1.0000" stop-color="rgb(0,0,0)"/></radialGradient>
<linearGradient id="cbb" x1="0" y1="1" x2="0" y2="0"><stop offset="0" stop-color="#000"/><stop offset="1" stop-color="#fff"/></linearGradient>
<clipPath id="cpc"><rect x="23.00" y="230.00" width="251.00" height="186.00"/></clipPath>
<linearGradient id="flc" gradientUnits="userSpaceOnUse" x1="0" y1="230.00" x2="0" y2="416.00"><stop offset="0.0737" stop-color="rgb(23,23,23)"/><stop offset="0.0968" stop-color="rgb(15,15,15)"/><stop offset="0.1290" stop-color="rgb(8,8,8)"/><stop offset="0.1720" stop-color="rgb(8,8,8)"/><stop offset="0.2151" stop-color="rgb(13,13,13)"/><stop offset="0.2688" stop-color="rgb(23,23,23)"/><stop offset="0.3495" stop-color="rgb(31,31,31)"/><stop offset="0.4839" stop-color="rgb(36,36,36)"/><stop offset="1.0000" stop-color="rgb(36,36,36)"/></linearGradient>
<radialGradient id="rgc0" gradientUnits="userSpaceOnUse" cx="0.000" cy="1.324" r="4.000" fx="0.000" fy="0.000" gradientTransform="translate(144.80 320.21) scale(70.490 76.000) translate(0.00 0.00)"><stop offset="0.0000" stop-color="rgb(95,95,95)"/><stop offset="0.0208" stop-color="rgb(95,95,95)"/><stop offset="0.0417" stop-color="rgb(95,95,95)"/><stop offset="0.0625" stop-color="rgb(94,94,94)"/><stop offset="0.0833" stop-color="rgb(91,91,91)"/><stop offset="0.1042" stop-color="rgb(88,88,88)"/><stop offset="0.1250" stop-color="rgb(83,83,83)"/><stop offset="0.1458" stop-color="rgb(77,77,77)"/><stop offset="0.1667" stop-color="rgb(70,70,70)"/><stop offset="0.1875" stop-color="rgb(61,61,61)"/><stop offset="0.2083" stop-color="rgb(53,53,53)"/><stop offset="0.2292" stop-color="rgb(44,44,44)"/><stop offset="0.2500" stop-color="rgb(35,35,35)"/><stop offset="0.2708" stop-color="rgb(27,27,27)"/><stop offset="0.2917" stop-color="rgb(20,20,20)"/><stop offset="0.3125" stop-color="rgb(14,14,14)"/><stop offset="0.3333" stop-color="rgb(10,10,10)"/><stop offset="0.3542" stop-color="rgb(6,6,6)"/><stop offset="0.3750" stop-color="rgb(4,4,4)"/><stop offset="0.3958" stop-color="rgb(2,2,2)"/><stop offset="0.4167" stop-color="rgb(1,1,1)"/><stop offset="0.4375" stop-color="rgb(1,1,1)"/><stop offset="0.4583" stop-color="rgb(0,0,0)"/><stop offset="0.4792" stop-color="rgb(0,0,0)"/><stop offset="0.5000" stop-color="rgb(0,0,0)"/><stop offset="0.5208" stop-color="rgb(0,0,0)"/><stop offset="0.5417" stop-color="rgb(0,0,0)"/><stop offset="0.5625" stop-color="rgb(0,0,0)"/><stop offset="0.5833" stop-color="rgb(0,0,0)"/><stop offset="0.6042" stop-color="rgb(0,0,0)"/><stop offset="0.6250" stop-color="rgb(0,0,0)"/><stop offset="0.6458" stop-color="rgb(0,0,0)"/><stop offset="0.6667" stop-color="rgb(0,0,0)"/><stop offset="0.6875" stop-color="rgb(0,0,0)"/><stop offset="0.7083" stop-color="rgb(0,0,0)"/><stop offset="0.7292" stop-color="rgb(0,0,0)"/><stop offset="0.7500" stop-color="rgb(0,0,0)"/><stop offset="0.7708" stop-color="rgb(0,0,0)"/><stop offset="0.7917" stop-color="rgb(0,0,0)"/><stop offset="0.8125" stop-color="rgb(0,0,0)"/><stop offset="0.8333" stop-color="rgb(0,0,0)"/><stop offset="0.8542" stop-color="rgb(0,0,0)"/><stop offset="0.8750" stop-color="rgb(0,0,0)"/><stop offset="0.8958" stop-color="rgb(0,0,0)"/><stop offset="0.9167" stop-color="rgb(0,0,0)"/><stop offset="0.9375" stop-color="rgb(0,0,0)"/><stop offset="0.9583" stop-color="rgb(0,0,0)"/><stop offset="0.9792" stop-color="rgb(0,0,0)"/><stop offset="1.0000" stop-color="rgb(0,0,0)"/></radialGradient>
<radialGradient id="rgc1" gradientUnits="userSpaceOnUse" cx="0.000" cy="0.000" r="4.000" fx="0.000" fy="0.000" gradientTransform="translate(144.80 337.50) scale(50.000 41.000) translate(0.00 0.00)"><stop offset="0.0000" stop-color="rgb(119,119,119)"/><stop offset="0.0208" stop-color="rgb(118,118,118)"/><stop offset="0.0417" stop-color="rgb(118,118,118)"/><stop offset="0.0625" stop-color="rgb(116,116,116)"/><stop offset="0.0833" stop-color="rgb(113,113,113)"/><stop offset="0.1042" stop-color="rgb(108,108,108)"/><stop offset="0.1250" stop-color="rgb(102,102,102)"/><stop offset="0.1458" stop-color="rgb(94,94,94)"/><stop offset="0.1667" stop-color="rgb(85,85,85)"/><stop offset="0.1875" stop-color="rgb(75,75,75)"/><stop offset="0.2083" stop-color="rgb(65,65,65)"/><stop offset="0.2292" stop-color="rgb(54,54,54)"/><stop offset="0.2500" stop-color="rgb(44,44,44)"/><stop offset="0.2708" stop-color="rgb(34,34,34)"/><stop offset="0.2917" stop-color="rgb(26,26,26)"/><stop offset="0.3125" stop-color="rgb(19,19,19)"/><stop offset="0.3333" stop-color="rgb(13,13,13)"/><stop offset="0.3542" stop-color="rgb(9,9,9)"/><stop offset="0.3750" stop-color="rgb(6,6,6)"/><stop offset="0.3958" stop-color="rgb(3,3,3)"/><stop offset="0.4167" stop-color="rgb(2,2,2)"/><stop offset="0.4375" stop-color="rgb(1,1,1)"/><stop offset="0.4583" stop-color="rgb(1,1,1)"/><stop offset="0.4792" stop-color="rgb(0,0,0)"/><stop offset="0.5000" stop-color="rgb(0,0,0)"/><stop offset="0.5208" stop-color="rgb(0,0,0)"/><stop offset="0.5417" stop-color="rgb(0,0,0)"/><stop offset="0.5625" stop-color="rgb(0,0,0)"/><stop offset="0.5833" stop-color="rgb(0,0,0)"/><stop offset="0.6042" stop-color="rgb(0,0,0)"/><stop offset="0.6250" stop-color="rgb(0,0,0)"/><stop offset="0.6458" stop-color="rgb(0,0,0)"/><stop offset="0.6667" stop-color="rgb(0,0,0)"/><stop offset="0.6875" stop-color="rgb(0,0,0)"/><stop offset="0.7083" stop-color="rgb(0,0,0)"/><stop offset="0.7292" stop-color="rgb(0,0,0)"/><stop offset="0.7500" stop-color="rgb(0,0,0)"/><stop offset="0.7708" stop-color="rgb(0,0,0)"/><stop offset="0.7917" stop-color="rgb(0,0,0)"/><stop offset="0.8125" stop-color="rgb(0,0,0)"/><stop offset="0.8333" stop-color="rgb(0,0,0)"/><stop offset="0.8542" stop-color="rgb(0,0,0)"/><stop offset="0.8750" stop-color="rgb(0,0,0)"/><stop offset="0.8958" stop-color="rgb(0,0,0)"/><stop offset="0.9167" stop-color="rgb(0,0,0)"/><stop offset="0.9375" stop-color="rgb(0,0,0)"/><stop offset="0.9583" stop-color="rgb(0,0,0)"/><stop offset="0.9792" stop-color="rgb(0,0,0)"/><stop offset="1.0000" stop-color="rgb(0,0,0)"/></radialGradient>
<radialGradient id="rgcp0" gradientUnits="userSpaceOnUse" cx="0" cy="0" r="4.000" gradientTransform="translate(108.80 301.00) scale(30.000 22.000)"><stop offset="0.0000" stop-color="rgb(17,17,17)"/><stop offset="0.0312" stop-color="rgb(16,16,16)"/><stop offset="0.0625" stop-color="rgb(16,16,16)"/><stop offset="0.0938" stop-color="rgb(14,14,14)"/><stop offset="0.1250" stop-color="rgb(13,13,13)"/><stop offset="0.1562" stop-color="rgb(11,11,11)"/><stop offset="0.1875" stop-color="rgb(9,9,9)"/><stop offset="0.2188" stop-color="rgb(8,8,8)"/><stop offset="0.2500" stop-color="rgb(6,6,6)"/><stop offset="0.2812" stop-color="rgb(5,5,5)"/><stop offset="0.3125" stop-color="rgb(3,3,3)"/><stop offset="0.3438" stop-color="rgb(3,3,3)"/><stop offset="0.3750" stop-color="rgb(2,2,2)"/><stop offset="0.4062" stop-color="rgb(1,1,1)"/><stop offset="0.4375" stop-color="rgb(1,1,1)"/><stop offset="0.4688" stop-color="rgb(0,0,0)"/><stop offset="0.5000" stop-color="rgb(0,0,0)"/><stop offset="0.5312" stop-color="rgb(0,0,0)"/><stop offset="0.5625" stop-color="rgb(0,0,0)"/><stop offset="0.5938" stop-color="rgb(0,0,0)"/><stop offset="0.6250" stop-color="rgb(0,0,0)"/><stop offset="0.6562" stop-color="rgb(0,0,0)"/><stop offset="0.6875" stop-color="rgb(0,0,0)"/><stop offset="0.7188" stop-color="rgb(0,0,0)"/><stop offset="0.7500" stop-color="rgb(0,0,0)"/><stop offset="0.7812" stop-color="rgb(0,0,0)"/><stop offset="0.8125" stop-color="rgb(0,0,0)"/><stop offset="0.8438" stop-color="rgb(0,0,0)"/><stop offset="0.8750" stop-color="rgb(0,0,0)"/><stop offset="0.9062" stop-color="rgb(0,0,0)"/><stop offset="0.9375" stop-color="rgb(0,0,0)"/><stop offset="0.9688" stop-color="rgb(0,0,0)"/><stop offset="1.0000" stop-color="rgb(0,0,0)"/></radialGradient>
<radialGradient id="rgcp1" gradientUnits="userSpaceOnUse" cx="0" cy="0" r="4.000" gradientTransform="translate(180.80 301.00) scale(30.000 22.000)"><stop offset="0.0000" stop-color="rgb(17,17,17)"/><stop offset="0.0312" stop-color="rgb(16,16,16)"/><stop offset="0.0625" stop-color="rgb(16,16,16)"/><stop offset="0.0938" stop-color="rgb(14,14,14)"/><stop offset="0.1250" stop-color="rgb(13,13,13)"/><stop offset="0.1562" stop-color="rgb(11,11,11)"/><stop offset="0.1875" stop-color="rgb(9,9,9)"/><stop offset="0.2188" stop-color="rgb(8,8,8)"/><stop offset="0.2500" stop-color="rgb(6,6,6)"/><stop offset="0.2812" stop-color="rgb(5,5,5)"/><stop offset="0.3125" stop-color="rgb(3,3,3)"/><stop offset="0.3438" stop-color="rgb(3,3,3)"/><stop offset="0.3750" stop-color="rgb(2,2,2)"/><stop offset="0.4062" stop-color="rgb(1,1,1)"/><stop offset="0.4375" stop-color="rgb(1,1,1)"/><stop offset="0.4688" stop-color="rgb(0,0,0)"/><stop offset="0.5000" stop-color="rgb(0,0,0)"/><stop offset="0.5312" stop-color="rgb(0,0,0)"/><stop offset="0.5625" stop-color="rgb(0,0,0)"/><stop offset="0.5938" stop-color="rgb(0,0,0)"/><stop offset="0.6250" stop-color="rgb(0,0,0)"/><stop offset="0.6562" stop-color="rgb(0,0,0)"/><stop offset="0.6875" stop-color="rgb(0,0,0)"/><stop offset="0.7188" stop-color="rgb(0,0,0)"/><stop offset="0.7500" stop-color="rgb(0,0,0)"/><stop offset="0.7812" stop-color="rgb(0,0,0)"/><stop offset="0.8125" stop-color="rgb(0,0,0)"/><stop offset="0.8438" stop-color="rgb(0,0,0)"/><stop offset="0.8750" stop-color="rgb(0,0,0)"/><stop offset="0.9062" stop-color="rgb(0,0,0)"/><stop offset="0.9375" stop-color="rgb(0,0,0)"/><stop offset="0.9688" stop-color="rgb(0,0,0)"/><stop offset="1.0000" stop-color="rgb(0,0,0)"/></radialGradient>
<radialGradient id="rgcp2" gradientUnits="userSpaceOnUse" cx="0" cy="0" r="4.000" gradientTransform="translate(108.80 364.00) scale(30.000 18.000)"><stop offset="0.0000" stop-color="#000" stop-opacity="0.030"/><stop offset="0.0312" stop-color="#000" stop-opacity="0.030"/><stop offset="0.0625" stop-color="#000" stop-opacity="0.028"/><stop offset="0.0938" stop-color="#000" stop-opacity="0.026"/><stop offset="0.1250" stop-color="#000" stop-opacity="0.023"/><stop offset="0.1562" stop-color="#000" stop-opacity="0.020"/><stop offset="0.1875" stop-color="#000" stop-opacity="0.017"/><stop offset="0.2188" stop-color="#000" stop-opacity="0.014"/><stop offset="0.2500" stop-color="#000" stop-opacity="0.011"/><stop offset="0.2812" stop-color="#000" stop-opacity="0.008"/><stop offset="0.3125" stop-color="#000" stop-opacity="0.006"/><stop offset="0.3438" stop-color="#000" stop-opacity="0.005"/><stop offset="0.3750" stop-color="#000" stop-opacity="0.003"/><stop offset="0.4062" stop-color="#000" stop-opacity="0.002"/><stop offset="0.4375" stop-color="#000" stop-opacity="0.001"/><stop offset="0.4688" stop-color="#000" stop-opacity="0.001"/><stop offset="0.5000" stop-color="#000" stop-opacity="0.001"/><stop offset="0.5312" stop-color="#000" stop-opacity="0.000"/><stop offset="0.5625" stop-color="#000" stop-opacity="0.000"/><stop offset="0.5938" stop-color="#000" stop-opacity="0.000"/><stop offset="0.6250" stop-color="#000" stop-opacity="0.000"/><stop offset="0.6562" stop-color="#000" stop-opacity="0.000"/><stop offset="0.6875" stop-color="#000" stop-opacity="0.000"/><stop offset="0.7188" stop-color="#000" stop-opacity="0.000"/><stop offset="0.7500" stop-color="#000" stop-opacity="0.000"/><stop offset="0.7812" stop-color="#000" stop-opacity="0.000"/><stop offset="0.8125" stop-color="#000" stop-opacity="0.000"/><stop offset="0.8438" stop-color="#000" stop-opacity="0.000"/><stop offset="0.8750" stop-color="#000" stop-opacity="0.000"/><stop offset="0.9062" stop-color="#000" stop-opacity="0.000"/><stop offset="0.9375" stop-color="#000" stop-opacity="0.000"/><stop offset="0.9688" stop-color="#000" stop-opacity="0.000"/><stop offset="1.0000" stop-color="#000" stop-opacity="0.000"/></radialGradient>
<radialGradient id="rgcp3" gradientUnits="userSpaceOnUse" cx="0" cy="0" r="4.000" gradientTransform="translate(180.80 364.00) scale(30.000 18.000)"><stop offset="0.0000" stop-color="#000" stop-opacity="0.030"/><stop offset="0.0312" stop-color="#000" stop-opacity="0.030"/><stop offset="0.0625" stop-color="#000" stop-opacity="0.028"/><stop offset="0.0938" stop-color="#000" stop-opacity="0.026"/><stop offset="0.1250" stop-color="#000" stop-opacity="0.023"/><stop offset="0.1562" stop-color="#000" stop-opacity="0.020"/><stop offset="0.1875" stop-color="#000" stop-opacity="0.017"/><stop offset="0.2188" stop-color="#000" stop-opacity="0.014"/><stop offset="0.2500" stop-color="#000" stop-opacity="0.011"/><stop offset="0.2812" stop-color="#000" stop-opacity="0.008"/><stop offset="0.3125" stop-color="#000" stop-opacity="0.006"/><stop offset="0.3438" stop-color="#000" stop-opacity="0.005"/><stop offset="0.3750" stop-color="#000" stop-opacity="0.003"/><stop offset="0.4062" stop-color="#000" stop-opacity="0.002"/><stop offset="0.4375" stop-color="#000" stop-opacity="0.001"/><stop offset="0.4688" stop-color="#000" stop-opacity="0.001"/><stop offset="0.5000" stop-color="#000" stop-opacity="0.001"/><stop offset="0.5312" stop-color="#000" stop-opacity="0.000"/><stop offset="0.5625" stop-color="#000" stop-opacity="0.000"/><stop offset="0.5938" stop-color="#000" stop-opacity="0.000"/><stop offset="0.6250" stop-color="#000" stop-opacity="0.000"/><stop offset="0.6562" stop-color="#000" stop-opacity="0.000"/><stop offset="0.6875" stop-color="#000" stop-opacity="0.000"/><stop offset="0.7188" stop-color="#000" stop-opacity="0.000"/><stop offset="0.7500" stop-color="#000" stop-opacity="0.000"/><stop offset="0.7812" stop-color="#000" stop-opacity="0.000"/><stop offset="0.8125" stop-color="#000" stop-opacity="0.000"/><stop offset="0.8438" stop-color="#000" stop-opacity="0.000"/><stop offset="0.8750" stop-color="#000" stop-opacity="0.000"/><stop offset="0.9062" stop-color="#000" stop-opacity="0.000"/><stop offset="0.9375" stop-color="#000" stop-opacity="0.000"/><stop offset="0.9688" stop-color="#000" stop-opacity="0.000"/><stop offset="1.0000" stop-color="#000" stop-opacity="0.000"/></radialGradient>
<radialGradient id="rgcp4" gradientUnits="userSpaceOnUse" cx="0" cy="0" r="4.000" gradientTransform="translate(145.00 244.50) scale(60.000 6.000)"><stop offset="0.0000" stop-color="rgb(43,43,43)"/><stop offset="0.0312" stop-color="rgb(43,43,43)"/><stop offset="0.0625" stop-color="rgb(41,41,41)"/><stop offset="0.0938" stop-color="rgb(38,38,38)"/><stop offset="0.1250" stop-color="rgb(34,34,34)"/><stop offset="0.1562" stop-color="rgb(29,29,29)"/><stop offset="0.1875" stop-color="rgb(25,25,25)"/><stop offset="0.2188" stop-color="rgb(20,20,20)"/><stop offset="0.2500" stop-color="rgb(16,16,16)"/><stop offset="0.2812" stop-color="rgb(12,12,12)"/><stop offset="0.3125" stop-color="rgb(9,9,9)"/><stop offset="0.3438" stop-color="rgb(7,7,7)"/><stop offset="0.3750" stop-color="rgb(5,5,5)"/><stop offset="0.4062" stop-color="rgb(3,3,3)"/><stop offset="0.4375" stop-color="rgb(2,2,2)"/><stop offset="0.4688" stop-color="rgb(1,1,1)"/><stop offset="0.5000" stop-color="rgb(1,1,1)"/><stop offset="0.5312" stop-color="rgb(0,0,0)"/><stop offset="0.5625" stop-color="rgb(0,0,0)"/><stop offset="0.5938" stop-color="rgb(0,0,0)"/><stop offset="0.6250" stop-color="rgb(0,0,0)"/><stop offset="0.6562" stop-color="rgb(0,0,0)"/><stop offset="0.6875" stop-color="rgb(0,0,0)"/><stop offset="0.7188" stop-color="rgb(0,0,0)"/><stop offset="0.7500" stop-color="rgb(0,0,0)"/><stop offset="0.7812" stop-color="rgb(0,0,0)"/><stop offset="0.8125" stop-color="rgb(0,0,0)"/><stop offset="0.8438" stop-color="rgb(0,0,0)"/><stop offset="0.8750" stop-color="rgb(0,0,0)"/><stop offset="0.9062" stop-color="rgb(0,0,0)"/><stop offset="0.9375" stop-color="rgb(0,0,0)"/><stop offset="0.9688" stop-color="rgb(0,0,0)"/><stop offset="1.0000" stop-color="rgb(0,0,0)"/></radialGradient>
<linearGradient id="cbc" x1="0" y1="1" x2="0" y2="0"><stop offset="0" stop-color="#000"/><stop offset="1" stop-color="#fff"/></linearGradient>
<clipPath id="cpd"><rect x="333.00" y="231.00" width="255.00" height="185.00"/></clipPath>
<linearGradient id="fld" gradientUnits="userSpaceOnUse" x1="0" y1="231.00" x2="0" y2="416.00"><stop offset="0.0519" stop-color="rgb(19,19,19)"/><stop offset="0.0703" stop-color="rgb(13,13,13)"/><stop offset="0.1027" stop-color="rgb(6,6,6)"/><stop offset="0.1568" stop-color="rgb(6,6,6)"/><stop offset="0.1892" stop-color="rgb(9,9,9)"/><stop offset="0.2324" stop-color="rgb(14,14,14)"/><stop offset="0.3027" stop-color="rgb(15,15,15)"/><stop offset="0.4270" stop-color="rgb(17,17,17)"/><stop offset="1.0000" stop-color="rgb(17,17,17)"/></linearGradient>
<radialGradient id="rgd0" gradientUnits="userSpaceOnUse" cx="0.000" cy="0.312" r="4.000" fx="0.000" fy="0.000" gradientTransform="translate(455.60 339.00) scale(61.000 62.000) translate(0.00 0.00)"><stop offset="0.0000" stop-color="rgb(153,153,153)"/><stop offset="0.0208" stop-color="rgb(152,152,152)"/><stop offset="0.0417" stop-color="rgb(150,150,150)"/><stop offset="0.0625" stop-color="rgb(145,145,145)"/><stop offset="0.0833" stop-color="rgb(139,139,139)"/><stop offset="0.1042" stop-color="rgb(131,131,131)"/><stop offset="0.1250" stop-color="rgb(121,121,121)"/><stop offset="0.1458" stop-color="rgb(111,111,111)"/><stop offset="0.1667" stop-color="rgb(100,100,100)"/><stop offset="0.1875" stop-color="rgb(89,89,89)"/><stop offset="0.2083" stop-color="rgb(77,77,77)"/><stop offset="0.2292" stop-color="rgb(67,67,67)"/><stop offset="0.2500" stop-color="rgb(56,56,56)"/><stop offset="0.2708" stop-color="rgb(47,47,47)"/><stop offset="0.2917" stop-color="rgb(38,38,38)"/><stop offset="0.3125" stop-color="rgb(31,31,31)"/><stop offset="0.3333" stop-color="rgb(25,25,25)"/><stop offset="0.3542" stop-color="rgb(19,19,19)"/><stop offset="0.3750" stop-color="rgb(15,15,15)"/><stop offset="0.3958" stop-color="rgb(11,11,11)"/><stop offset="0.4167" stop-color="rgb(8,8,8)"/><stop offset="0.4375" stop-color="rgb(6,6,6)"/><stop offset="0.4583" stop-color="rgb(4,4,4)"/><stop offset="0.4792" stop-color="rgb(3,3,3)"/><stop offset="0.5000" stop-color="rgb(2,2,2)"/><stop offset="0.5208" stop-color="rgb(1,1,1)"/><stop offset="0.5417" stop-color="rgb(1,1,1)"/><stop offset="0.5625" stop-color="rgb(1,1,1)"/><stop offset="0.5833" stop-color="rgb(0,0,0)"/><stop offset="0.6042" stop-color="rgb(0,0,0)"/><stop offset="0.6250" stop-color="rgb(0,0,0)"/><stop offset="0.6458" stop-color="rgb(0,0,0)"/><stop offset="0.6667" stop-color="rgb(0,0,0)"/><stop offset="0.6875" stop-color="rgb(0,0,0)"/><stop offset="0.7083" stop-color="rgb(0,0,0)"/><stop offset="0.7292" stop-color="rgb(0,0,0)"/><stop offset="0.7500" stop-color="rgb(0,0,0)"/><stop offset="0.7708" stop-color="rgb(0,0,0)"/><stop offset="0.7917" stop-color="rgb(0,0,0)"/><stop offset="0.8125" stop-color="rgb(0,0,0)"/><stop offset="0.8333" stop-color="rgb(0,0,0)"/><stop offset="0.8542" stop-color="rgb(0,0,0)"/><stop offset="0.8750" stop-color="rgb(0,0,0)"/><stop offset="0.8958" stop-color="rgb(0,0,0)"/><stop offset="0.9167" stop-color="rgb(0,0,0)"/><stop offset="0.9375" stop-color="rgb(0,0,0)"/><stop offset="0.9583" stop-color="rgb(0,0,0)"/><stop offset="0.9792" stop-color="rgb(0,0,0)"/><stop offset="1.0000" stop-color="rgb(0,0,0)"/></radialGradient>
<radialGradient id="rgd1" gradientUnits="userSpaceOnUse" cx="0.000" cy="0.000" r="4.000" fx="0.000" fy="0.000" gradientTransform="translate(455.60 333.00) scale(49.210 42.500) translate(0.00 0.00)"><stop offset="0.0000" stop-color="rgb(84,84,84)"/><stop offset="0.0208" stop-color="rgb(84,84,84)"/><stop offset="0.0417" stop-color="rgb(84,84,84)"/><stop offset="0.0625" stop-color="rgb(83,83,83)"/><stop offset="0.0833" stop-color="rgb(82,82,82)"/><stop offset="0.1042" stop-color="rgb(79,79,79)"/><stop offset="0.1250" stop-color="rgb(75,75,75)"/><stop offset="0.1458" stop-color="rgb(70,70,70)"/><stop offset="0.1667" stop-color="rgb(64,64,64)"/><stop offset="0.1875" stop-color="rgb(56,56,56)"/><stop offset="0.2083" stop-color="rgb(48,48,48)"/><stop offset="0.2292" stop-color="rgb(39,39,39)"/><stop offset="0.2500" stop-color="rgb(31,31,31)"/><stop offset="0.2708" stop-color="rgb(23,23,23)"/><stop offset="0.2917" stop-color="rgb(17,17,17)"/><stop offset="0.3125" stop-color="rgb(11,11,11)"/><stop offset="0.3333" stop-color="rgb(7,7,7)"/><stop offset="0.3542" stop-color="rgb(4,4,4)"/><stop offset="0.3750" stop-color="rgb(2,2,2)"/><stop offset="0.3958" stop-color="rgb(1,1,1)"/><stop offset="0.4167" stop-color="rgb(1,1,1)"/><stop offset="0.4375" stop-color="rgb(0,0,0)"/><stop offset="0.4583" stop-color="rgb(0,0,0)"/><stop offset="0.4792" stop-color="rgb(0,0,0)"/><stop offset="0.5000" stop-color="rgb(0,0,0)"/><stop offset="0.5208" stop-color="rgb(0,0,0)"/><stop offset="0.5417" stop-color="rgb(0,0,0)"/><stop offset="0.5625" stop-color="rgb(0,0,0)"/><stop offset="0.5833" stop-color="rgb(0,0,0)"/><stop offset="0.6042" stop-color="rgb(0,0,0)"/><stop offset="0.6250" stop-color="rgb(0,0,0)"/><stop offset="0.6458" stop-color="rgb(0,0,0)"/><stop offset="0.6667" stop-color="rgb(0,0,0)"/><stop offset="0.6875" stop-color="rgb(0,0,0)"/><stop offset="0.7083" stop-color="rgb(0,0,0)"/><stop offset="0.7292" stop-color="rgb(0,0,0)"/><stop offset="0.7500" stop-color="rgb(0,0,0)"/><stop offset="0.7708" stop-color="rgb(0,0,0)"/><stop offset="0.7917" stop-color="rgb(0,0,0)"/><stop offset="0.8125" stop-color="rgb(0,0,0)"/><stop offset="0.8333" stop-color="rgb(0,0,0)"/><stop offset="0.8542" stop-color="rgb(0,0,0)"/><stop offset="0.8750" stop-color="rgb(0,0,0)"/><stop offset="0.8958" stop-color="rgb(0,0,0)"/><stop offset="0.9167" stop-color="rgb(0,0,0)"/><stop offset="0.9375" stop-color="rgb(0,0,0)"/><stop offset="0.9583" stop-color="rgb(0,0,0)"/><stop offset="0.9792" stop-color="rgb(0,0,0)"/><stop offset="1.0000" stop-color="rgb(0,0,0)"/></radialGradient>
<radialGradient id="rgdp0" gradientUnits="userSpaceOnUse" cx="0" cy="0" r="4.000" gradientTransform="translate(422.60 298.40) scale(28.000 20.000)"><stop offset="0.0000" stop-color="rgb(15,15,15)"/><stop offset="0.0312" stop-color="rgb(15,15,15)"/><stop offset="0.0625" stop-color="rgb(14,14,14)"/><stop offset="0.0938" stop-color="rgb(13,13,13)"/><stop offset="0.1250" stop-color="rgb(12,12,12)"/><stop offset="0.1562" stop-color="rgb(10,10,10)"/><stop offset="0.1875" stop-color="rgb(9,9,9)"/><stop offset="0.2188" stop-color="rgb(7,7,7)"/><stop offset="0.2500" stop-color="rgb(6,6,6)"/><stop offset="0.2812" stop-color="rgb(4,4,4)"/><stop offset="0.3125" stop-color="rgb(3,3,3)"/><stop offset="0.3438" stop-color="rgb(2,2,2)"/><stop offset="0.3750" stop-color="rgb(2,2,2)"/><stop offset="0.4062" stop-color="rgb(1,1,1)"/><stop offset="0.4375" stop-color="rgb(1,1,1)"/><stop offset="0.4688" stop-color="rgb(0,0,0)"/><stop offset="0.5000" stop-color="rgb(0,0,0)"/><stop offset="0.5312" stop-color="rgb(0,0,0)"/><stop offset="0.5625" stop-color="rgb(0,0,0)"/><stop offset="0.5938" stop-color="rgb(0,0,0)"/><stop offset="0.6250" stop-color="rgb(0,0,0)"/><stop offset="0.6562" stop-color="rgb(0,0,0)"/><stop offset="0.6875" stop-color="rgb(0,0,0)"/><stop offset="0.7188" stop-color="rgb(0,0,0)"/><stop offset="0.7500" stop-color="rgb(0,0,0)"/><stop offset="0.7812" stop-color="rgb(0,0,0)"/><stop offset="0.8125" stop-color="rgb(0,0,0)"/><stop offset="0.8438" stop-color="rgb(0,0,0)"/><stop offset="0.8750" stop-color="rgb(0,0,0)"/><stop offset="0.9062" stop-color="rgb(0,0,0)"/><stop offset="0.9375" stop-color="rgb(0,0,0)"/><stop offset="0.9688" stop-color="rgb(0,0,0)"/><stop offset="1.0000" stop-color="rgb(0,0,0)"/></radialGradient>
<radialGradient id="rgdp1" gradientUnits="userSpaceOnUse" cx="0" cy="0" r="4.000" gradientTransform="translate(488.60 298.40) scale(28.000 20.000)"><stop offset="0.0000" stop-color="rgb(15,15,15)"/><stop offset="0.0312" stop-color="rgb(15,15,15)"/><stop offset="0.0625" stop-color="rgb(14,14,14)"/><stop offset="0.0938" stop-color="rgb(13,13,13)"/><stop offset="0.1250" stop-color="rgb(12,12,12)"/><stop offset="0.1562" stop-color="rgb(10,10,10)"/><stop offset="0.1875" stop-color="rgb(9,9,9)"/><stop offset="0.2188" stop-color="rgb(7,7,7)"/><stop offset="0.2500" stop-color="rgb(6,6,6)"/><stop offset="0.2812" stop-color="rgb(4,4,4)"/><stop offset="0.3125" stop-color="rgb(3,3,3)"/><stop offset="0.3438" stop-color="rgb(2,2,2)"/><stop offset="0.3750" stop-color="rgb(2,2,2)"/><stop offset="0.4062" stop-color="rgb(1,1,1)"/><stop offset="0.4375" stop-color="rgb(1,1,1)"/><stop offset="0.4688" stop-color="rgb(0,0,0)"/><stop offset="0.5000" stop-color="rgb(0,0,0)"/><stop offset="0.5312" stop-color="rgb(0,0,0)"/><stop offset="0.5625" stop-color="rgb(0,0,0)"/><stop offset="0.5938" stop-color="rgb(0,0,0)"/><stop offset="0.6250" stop-color="rgb(0,0,0)"/><stop offset="0.6562" stop-color="rgb(0,0,0)"/><stop offset="0.6875" stop-color="rgb(0,0,0)"/><stop offset="0.7188" stop-color="rgb(0,0,0)"/><stop offset="0.7500" stop-color="rgb(0,0,0)"/><stop offset="0.7812" stop-color="rgb(0,0,0)"/><stop offset="0.8125" stop-color="rgb(0,0,0)"/><stop offset="0.8438" stop-color="rgb(0,0,0)"/><stop offset="0.8750" stop-color="rgb(0,0,0)"/><stop offset="0.9062" stop-color="rgb(0,0,0)"/><stop offset="0.9375" stop-color="rgb(0,0,0)"/><stop offset="0.9688" stop-color="rgb(0,0,0)"/><stop offset="1.0000" stop-color="rgb(0,0,0)"/></radialGradient>
<radialGradient id="rgdp2" gradientUnits="userSpaceOnUse" cx="0" cy="0" r="4.000" gradientTransform="translate(422.60 357.40) scale(28.000 17.000)"><stop offset="0.0000" stop-color="#000" stop-opacity="0.030"/><stop offset="0.0312" stop-color="#000" stop-opacity="0.030"/><stop offset="0.0625" stop-color="#000" stop-opacity="0.028"/><stop offset="0.0938" stop-color="#000" stop-opacity="0.026"/><stop offset="0.1250" stop-color="#000" stop-opacity="0.023"/><stop offset="0.1562" stop-color="#000" stop-opacity="0.020"/><stop offset="0.1875" stop-color="#000" stop-opacity="0.017"/><stop offset="0.2188" stop-color="#000" stop-opacity="0.014"/><stop offset="0.2500" stop-color="#000" stop-opacity="0.011"/><stop offset="0.2812" stop-color="#000" stop-opacity="0.008"/><stop offset="0.3125" stop-color="#000" stop-opacity="0.006"/><stop offset="0.3438" stop-color="#000" stop-opacity="0.005"/><stop offset="0.3750" stop-color="#000" stop-opacity="0.003"/><stop offset="0.4062" stop-color="#000" stop-opacity="0.002"/><stop offset="0.4375" stop-color="#000" stop-opacity="0.001"/><stop offset="0.4688" stop-color="#000" stop-opacity="0.001"/><stop offset="0.5000" stop-color="#000" stop-opacity="0.001"/><stop offset="0.5312" stop-color="#000" stop-opacity="0.000"/><stop offset="0.5625" stop-color="#000" stop-opacity="0.000"/><stop offset="0.5938" stop-color="#000" stop-opacity="0.000"/><stop offset="0.6250" stop-color="#000" stop-opacity="0.000"/><stop offset="0.6562" stop-color="#000" stop-opacity="0.000"/><stop offset="0.6875" stop-color="#000" stop-opacity="0.000"/><stop offset="0.7188" stop-color="#000" stop-opacity="0.000"/><stop offset="0.7500" stop-color="#000" stop-opacity="0.000"/><stop offset="0.7812" stop-color="#000" stop-opacity="0.000"/><stop offset="0.8125" stop-color="#000" stop-opacity="0.000"/><stop offset="0.8438" stop-color="#000" stop-opacity="0.000"/><stop offset="0.8750" stop-color="#000" stop-opacity="0.000"/><stop offset="0.9062" stop-color="#000" stop-opacity="0.000"/><stop offset="0.9375" stop-color="#000" stop-opacity="0.000"/><stop offset="0.9688" stop-color="#000" stop-opacity="0.000"/><stop offset="1.0000" stop-color="#000" stop-opacity="0.000"/></radialGradient>
<radialGradient id="rgdp3" gradientUnits="userSpaceOnUse" cx="0" cy="0" r="4.000" gradientTransform="translate(488.60 357.40) scale(28.000 17.000)"><stop offset="0.0000" stop-color="#000" stop-opacity="0.030"/><stop offset="0.0312" stop-color="#000" stop-opacity="0.030"/><stop offset="0.0625" stop-color="#000" stop-opacity="0.028"/><stop offset="0.0938" stop-color="#000" stop-opacity="0.026"/><stop offset="0.1250" stop-color="#000" stop-opacity="0.023"/><stop offset="0.1562" stop-color="#000" stop-opacity="0.020"/><stop offset="0.1875" stop-color="#000" stop-opacity="0.017"/><stop offset="0.2188" stop-color="#000" stop-opacity="0.014"/><stop offset="0.2500" stop-color="#000" stop-opacity="0.011"/><stop offset="0.2812" stop-color="#000" stop-opacity="0.008"/><stop offset="0.3125" stop-color="#000" stop-opacity="0.006"/><stop offset="0.3438" stop-color="#000" stop-opacity="0.005"/><stop offset="0.3750" stop-color="#000" stop-opacity="0.003"/><stop offset="0.4062" stop-color="#000" stop-opacity="0.002"/><stop offset="0.4375" stop-color="#000" stop-opacity="0.001"/><stop offset="0.4688" stop-color="#000" stop-opacity="0.001"/><stop offset="0.5000" stop-color="#000" stop-opacity="0.001"/><stop offset="0.5312" stop-color="#000" stop-opacity="0.000"/><stop offset="0.5625" stop-color="#000" stop-opacity="0.000"/><stop offset="0.5938" stop-color="#000" stop-opacity="0.000"/><stop offset="0.6250" stop-color="#000" stop-opacity="0.000"/><stop offset="0.6562" stop-color="#000" stop-opacity="0.000"/><stop offset="0.6875" stop-color="#000" stop-opacity="0.000"/><stop offset="0.7188" stop-color="#000" stop-opacity="0.000"/><stop offset="0.7500" stop-color="#000" stop-opacity="0.000"/><stop offset="0.7812" stop-color="#000" stop-opacity="0.000"/><stop offset="0.8125" stop-color="#000" stop-opacity="0.000"/><stop offset="0.8438" stop-color="#000" stop-opacity="0.000"/><stop offset="0.8750" stop-color="#000" stop-opacity="0.000"/><stop offset="0.9062" stop-color="#000" stop-opacity="0.000"/><stop offset="0.9375" stop-color="#000" stop-opacity="0.000"/><stop offset="0.9688" stop-color="#000" stop-opacity="0.000"/><stop offset="1.0000" stop-color="#000" stop-opacity="0.000"/></radialGradient>
<radialGradient id="rgdp4" gradientUnits="userSpaceOnUse" cx="0" cy="0" r="4.000" gradientTransform="translate(456.00 241.50) scale(65.000 5.000)"><stop offset="0.0000" stop-color="rgb(28,28,28)"/><stop offset="0.0312" stop-color="rgb(28,28,28)"/><stop offset="0.0625" stop-color="rgb(26,26,26)"/><stop offset="0.0938" stop-color="rgb(24,24,24)"/><stop offset="0.1250" stop-color="rgb(22,22,22)"/><stop offset="0.1562" stop-color="rgb(19,19,19)"/><stop offset="0.1875" stop-color="rgb(16,16,16)"/><stop offset="0.2188" stop-color="rgb(13,13,13)"/><stop offset="0.2500" stop-color="rgb(10,10,10)"/><stop offset="0.2812" stop-color="rgb(8,8,8)"/><stop offset="0.3125" stop-color="rgb(6,6,6)"/><stop offset="0.3438" stop-color="rgb(4,4,4)"/><stop offset="0.3750" stop-color="rgb(3,3,3)"/><stop offset="0.4062" stop-color="rgb(2,2,2)"/><stop offset="0.4375" stop-color="rgb(1,1,1)"/><stop offset="0.4688" stop-color="rgb(1,1,1)"/><stop offset="0.5000" stop-color="rgb(1,1,1)"/><stop offset="0.5312" stop-color="rgb(0,0,0)"/><stop offset="0.5625" stop-color="rgb(0,0,0)"/><stop offset="0.5938" stop-color="rgb(0,0,0)"/><stop offset="0.6250" stop-color="rgb(0,0,0)"/><stop offset="0.6562" stop-color="rgb(0,0,0)"/><stop offset="0.6875" stop-color="rgb(0,0,0)"/><stop offset="0.7188" stop-color="rgb(0,0,0)"/><stop offset="0.7500" stop-color="rgb(0,0,0)"/><stop offset="0.7812" stop-color="rgb(0,0,0)"/><stop offset="0.8125" stop-color="rgb(0,0,0)"/><stop offset="0.8438" stop-color="rgb(0,0,0)"/><stop offset="0.8750" stop-color="rgb(0,0,0)"/><stop offset="0.9062" stop-color="rgb(0,0,0)"/><stop offset="0.9375" stop-color="rgb(0,0,0)"/><stop offset="0.9688" stop-color="rgb(0,0,0)"/><stop offset="1.0000" stop-color="rgb(0,0,0)"/></radialGradient>
<linearGradient id="cbd" x1="0" y1="1" x2="0" y2="0"><stop offset="0" stop-color="#000"/><stop offset="1" stop-color="#fff"/></linearGradient>
    </defs>
    <rect width="685" height="438" fill="#fff"/>
    <g clip-path="url(#cpa)"><g filter="url(#jet)">
<rect x="24.00" y="14.00" width="249.00" height="184.00" fill="url(#fla)"/>
<rect x="24.00" y="14.00" width="249.00" height="184.00" fill="url(#rga0)" style="mix-blend-mode:screen;mix-blend-mode:plus-lighter"/>
<rect x="24.00" y="14.00" width="249.00" height="184.00" fill="url(#rga1)" style="mix-blend-mode:screen;mix-blend-mode:plus-lighter"/>
<rect x="24.00" y="14.00" width="249.00" height="184.00" fill="url(#rgap0)" style="mix-blend-mode:screen;mix-blend-mode:plus-lighter"/>
<rect x="24.00" y="14.00" width="249.00" height="184.00" fill="url(#rgap1)" style="mix-blend-mode:screen;mix-blend-mode:plus-lighter"/>
<rect x="24.00" y="14.00" width="249.00" height="184.00" fill="url(#rgap2)"/>
<rect x="24.00" y="14.00" width="249.00" height="184.00" fill="url(#rgap3)"/>
<rect x="24.00" y="14.00" width="249.00" height="184.00" fill="url(#rgap4)"/>
<rect x="24.00" y="14.00" width="249.00" height="184.00" fill="url(#rgap5)"/>
<rect x="24.00" y="14.00" width="249.00" height="184.00" fill="url(#rgap6)"/>
<rect x="24.00" y="14.00" width="249.00" height="184.00" fill="url(#rgap7)"/>
<rect x="24.00" y="14.00" width="249.00" height="184.00" fill="url(#rgap8)" style="mix-blend-mode:screen;mix-blend-mode:plus-lighter"/>
<rect x="24.00" y="14.00" width="249.00" height="184.00" fill="url(#rgap9)" style="mix-blend-mode:screen;mix-blend-mode:plus-lighter"/>
<rect x="24.00" y="14.00" width="249.00" height="184.00" fill="url(#rgap10)" style="mix-blend-mode:screen;mix-blend-mode:plus-lighter"/>
<rect x="24.00" y="14.00" width="249.00" height="23.90" fill="rgb(0,0,0)"/>
</g></g>
<rect x="24.00" y="14.00" width="1" height="184.00" fill="#333" opacity="0.45"/>
<rect x="24.00" y="197.00" width="249.00" height="1" fill="#333" opacity="0.3"/>
<line x1="24.00" x2="26.50" y1="21.80" y2="21.80" stroke="#111" stroke-width="0.8" opacity="0.6"/>
<line x1="24.00" x2="26.50" y1="37.74" y2="37.74" stroke="#111" stroke-width="0.8" opacity="0.6"/>
<line x1="24.00" x2="26.50" y1="53.68" y2="53.68" stroke="#111" stroke-width="0.8" opacity="0.6"/>
<line x1="24.00" x2="26.50" y1="69.62" y2="69.62" stroke="#111" stroke-width="0.8" opacity="0.6"/>
<line x1="24.00" x2="26.50" y1="85.56" y2="85.56" stroke="#111" stroke-width="0.8" opacity="0.6"/>
<line x1="24.00" x2="26.50" y1="101.50" y2="101.50" stroke="#111" stroke-width="0.8" opacity="0.6"/>
<line x1="24.00" x2="26.50" y1="117.44" y2="117.44" stroke="#111" stroke-width="0.8" opacity="0.6"/>
<line x1="24.00" x2="26.50" y1="133.38" y2="133.38" stroke="#111" stroke-width="0.8" opacity="0.6"/>
<line x1="24.00" x2="26.50" y1="149.32" y2="149.32" stroke="#111" stroke-width="0.8" opacity="0.6"/>
<line x1="24.00" x2="26.50" y1="165.26" y2="165.26" stroke="#111" stroke-width="0.8" opacity="0.6"/>
<line x1="24.00" x2="26.50" y1="181.20" y2="181.20" stroke="#111" stroke-width="0.8" opacity="0.6"/>
<line x1="270.50" x2="273.00" y1="21.80" y2="21.80" stroke="#111" stroke-width="0.8" opacity="0.5"/>
<line x1="270.50" x2="273.00" y1="37.74" y2="37.74" stroke="#111" stroke-width="0.8" opacity="0.5"/>
<line x1="270.50" x2="273.00" y1="53.68" y2="53.68" stroke="#111" stroke-width="0.8" opacity="0.5"/>
<line x1="270.50" x2="273.00" y1="69.62" y2="69.62" stroke="#111" stroke-width="0.8" opacity="0.5"/>
<line x1="270.50" x2="273.00" y1="85.56" y2="85.56" stroke="#111" stroke-width="0.8" opacity="0.5"/>
<line x1="270.50" x2="273.00" y1="101.50" y2="101.50" stroke="#111" stroke-width="0.8" opacity="0.5"/>
<line x1="270.50" x2="273.00" y1="117.44" y2="117.44" stroke="#111" stroke-width="0.8" opacity="0.5"/>
<line x1="270.50" x2="273.00" y1="133.38" y2="133.38" stroke="#111" stroke-width="0.8" opacity="0.5"/>
<line x1="270.50" x2="273.00" y1="149.32" y2="149.32" stroke="#111" stroke-width="0.8" opacity="0.5"/>
<line x1="270.50" x2="273.00" y1="165.26" y2="165.26" stroke="#111" stroke-width="0.8" opacity="0.5"/>
<line x1="270.50" x2="273.00" y1="181.20" y2="181.20" stroke="#111" stroke-width="0.8" opacity="0.5"/>
<line x1="67.50" x2="67.50" y1="198.00" y2="195.50" stroke="#111" stroke-width="0.8" opacity="0.6"/>
<line x1="67.50" x2="67.50" y1="14.00" y2="16.50" stroke="#111" stroke-width="0.8" opacity="0.6"/>
<line x1="144.60" x2="144.60" y1="198.00" y2="195.50" stroke="#111" stroke-width="0.8" opacity="0.6"/>
<line x1="144.60" x2="144.60" y1="14.00" y2="16.50" stroke="#111" stroke-width="0.8" opacity="0.6"/>
<line x1="221.60" x2="221.60" y1="198.00" y2="195.50" stroke="#111" stroke-width="0.8" opacity="0.6"/>
<line x1="221.60" x2="221.60" y1="14.00" y2="16.50" stroke="#111" stroke-width="0.8" opacity="0.6"/>
<ellipse cx="144.50" cy="101.40" rx="61.60" ry="63.60" fill="none" stroke="#111" stroke-width="0.9" opacity="0.85"/>
<line x1="24.00" x2="273.00" y1="37.90" y2="37.90" stroke="#140a28" stroke-width="1.4"/>
<line x1="24.00" x2="273.00" y1="37.90" y2="37.90" stroke="#b8103c" stroke-width="1.4" stroke-dasharray="2.4 1.6"/>
<line x1="24.00" x2="273.00" y1="101.50" y2="101.50" stroke="#e8102a" stroke-width="1" stroke-dasharray="2.5 1.5" opacity="0.85"/>
<line x1="252.40" x2="252.40" y1="41.30" y2="98.00" stroke="#e01030" stroke-width="1" opacity="0.85"/>
<path d="M252.40 38.30L249.70 45.30L255.10 45.30Z" fill="#f01020"/>
<path d="M252.40 101.00L249.70 94.00L255.10 94.00Z" fill="#f01020"/>
<text x="230.80" y="74.00" font-size="8.6" fill="#ff0a24" stroke="#ff0a24" stroke-width="0.45" textLength="18.6" lengthAdjust="spacingAndGlyphs">4μm</text>
<g filter="url(#jet)"><rect x="274.30" y="14.00" width="9.70" height="184.60" fill="url(#cba)"/></g>
<rect x="274.60" y="14.30" width="9.10" height="184.00" fill="none" stroke="#222" stroke-width="0.6" opacity="0.6"/>
<line x1="274.30" x2="275.80" y1="25.10" y2="25.10" stroke="#111" stroke-width="0.8"/>
<line x1="282.50" x2="284.00" y1="25.10" y2="25.10" stroke="#111" stroke-width="0.8"/>
<text x="288.30" y="28.22" font-size="8.70" fill="#3a3a3a" stroke="#3a3a3a" stroke-width="0.2" textLength="14.6" lengthAdjust="spacingAndGlyphs">250</text>
<line x1="274.30" x2="275.80" y1="59.80" y2="59.80" stroke="#111" stroke-width="0.8"/>
<line x1="282.50" x2="284.00" y1="59.80" y2="59.80" stroke="#111" stroke-width="0.8"/>
<text x="288.30" y="62.92" font-size="8.70" fill="#3a3a3a" stroke="#3a3a3a" stroke-width="0.2" textLength="14.6" lengthAdjust="spacingAndGlyphs">200</text>
<line x1="274.30" x2="275.80" y1="94.50" y2="94.50" stroke="#111" stroke-width="0.8"/>
<line x1="282.50" x2="284.00" y1="94.50" y2="94.50" stroke="#111" stroke-width="0.8"/>
<text x="288.30" y="97.62" font-size="8.70" fill="#3a3a3a" stroke="#3a3a3a" stroke-width="0.2" textLength="14.6" lengthAdjust="spacingAndGlyphs">150</text>
<line x1="274.30" x2="275.80" y1="129.20" y2="129.20" stroke="#111" stroke-width="0.8"/>
<line x1="282.50" x2="284.00" y1="129.20" y2="129.20" stroke="#111" stroke-width="0.8"/>
<text x="288.30" y="132.32" font-size="8.70" fill="#3a3a3a" stroke="#3a3a3a" stroke-width="0.2" textLength="14.6" lengthAdjust="spacingAndGlyphs">100</text>
<line x1="274.30" x2="275.80" y1="163.90" y2="163.90" stroke="#111" stroke-width="0.8"/>
<line x1="282.50" x2="284.00" y1="163.90" y2="163.90" stroke="#111" stroke-width="0.8"/>
<text x="288.30" y="167.02" font-size="8.70" fill="#3a3a3a" stroke="#3a3a3a" stroke-width="0.2" textLength="9.7" lengthAdjust="spacingAndGlyphs">50</text>
<text x="19.00" y="25.11" font-size="7.50" fill="#333" stroke="#333" stroke-width="0.15" text-anchor="end">5</text>
<text x="19.00" y="41.05" font-size="7.50" fill="#333" stroke="#333" stroke-width="0.15" text-anchor="end">4</text>
<text x="19.00" y="56.99" font-size="7.50" fill="#333" stroke="#333" stroke-width="0.15" text-anchor="end">3</text>
<text x="19.00" y="72.93" font-size="7.50" fill="#333" stroke="#333" stroke-width="0.15" text-anchor="end">2</text>
<text x="19.00" y="88.87" font-size="7.50" fill="#333" stroke="#333" stroke-width="0.15" text-anchor="end">1</text>
<text x="19.00" y="104.81" font-size="7.50" fill="#333" stroke="#333" stroke-width="0.15" text-anchor="end">0</text>
<text x="19.00" y="120.75" font-size="7.50" fill="#333" stroke="#333" stroke-width="0.15" text-anchor="end">-1</text>
<text x="19.00" y="136.69" font-size="7.50" fill="#333" stroke="#333" stroke-width="0.15" text-anchor="end">-2</text>
<text x="19.00" y="152.63" font-size="7.50" fill="#333" stroke="#333" stroke-width="0.15" text-anchor="end">-3</text>
<text x="19.00" y="168.57" font-size="7.50" fill="#333" stroke="#333" stroke-width="0.15" text-anchor="end">-4</text>
<text x="19.00" y="184.51" font-size="7.50" fill="#333" stroke="#333" stroke-width="0.15" text-anchor="end">-5</text>
<text x="19.00" y="200.45" font-size="7.50" fill="#333" stroke="#333" stroke-width="0.15" text-anchor="end">-6</text>
<text x="66.20" y="210.61" font-size="7.50" fill="#333" stroke="#333" stroke-width="0.15" text-anchor="middle">-5</text>
<text x="144.50" y="210.61" font-size="7.50" fill="#333" stroke="#333" stroke-width="0.15" text-anchor="middle">0</text>
<text x="222.30" y="210.61" font-size="7.50" fill="#333" stroke="#333" stroke-width="0.15" text-anchor="middle">5</text>
<text x="143.50" y="221.00" font-size="9.2" font-weight="bold" font-style="italic" fill="#222" text-anchor="middle">y(μm)</text>
<text transform="translate(8.20 105.00) rotate(-90)" font-size="8.6" font-weight="bold" font-style="italic" fill="#222" text-anchor="middle">x(μm)</text>
<text x="7.80" y="8.60" font-size="11.2" font-weight="bold" fill="#222">(a)</text>
<g clip-path="url(#cpb)"><g filter="url(#jet)">
<rect x="332.00" y="15.00" width="257.00" height="185.00" fill="url(#flb)"/>
<rect x="332.00" y="15.00" width="257.00" height="185.00" fill="url(#rgb0)" style="mix-blend-mode:screen;mix-blend-mode:plus-lighter"/>
<rect x="332.00" y="15.00" width="257.00" height="185.00" fill="url(#rgb1)" style="mix-blend-mode:screen;mix-blend-mode:plus-lighter"/>
<rect x="332.00" y="15.00" width="257.00" height="185.00" fill="url(#rgbp0)" style="mix-blend-mode:screen;mix-blend-mode:plus-lighter"/>
<rect x="332.00" y="15.00" width="257.00" height="185.00" fill="url(#rgbp1)" style="mix-blend-mode:screen;mix-blend-mode:plus-lighter"/>
<rect x="332.00" y="15.00" width="257.00" height="185.00" fill="url(#rgbp2)"/>
<rect x="332.00" y="15.00" width="257.00" height="185.00" fill="url(#rgbp3)"/>
<rect x="332.00" y="15.00" width="257.00" height="185.00" fill="url(#rgbp4)" style="mix-blend-mode:screen;mix-blend-mode:plus-lighter"/>
<rect x="332.00" y="15.00" width="257.00" height="14.00" fill="rgb(0,0,0)"/>
</g></g>
<rect x="332.00" y="15.00" width="1" height="185.00" fill="#333" opacity="0.45"/>
<rect x="332.00" y="199.00" width="257.00" height="1" fill="#333" opacity="0.3"/>
<line x1="332.00" x2="334.50" y1="30.40" y2="30.40" stroke="#111" stroke-width="0.8" opacity="0.6"/>
<line x1="332.00" x2="334.50" y1="44.40" y2="44.40" stroke="#111" stroke-width="0.8" opacity="0.6"/>
<line x1="332.00" x2="334.50" y1="58.40" y2="58.40" stroke="#111" stroke-width="0.8" opacity="0.6"/>
<line x1="332.00" x2="334.50" y1="72.40" y2="72.40" stroke="#111" stroke-width="0.8" opacity="0.6"/>
<line x1="332.00" x2="334.50" y1="86.40" y2="86.40" stroke="#111" stroke-width="0.8" opacity="0.6"/>
<line x1="332.00" x2="334.50" y1="100.40" y2="100.40" stroke="#111" stroke-width="0.8" opacity="0.6"/>
<line x1="332.00" x2="334.50" y1="114.40" y2="114.40" stroke="#111" stroke-width="0.8" opacity="0.6"/>
<line x1="332.00" x2="334.50" y1="128.40" y2="128.40" stroke="#111" stroke-width="0.8" opacity="0.6"/>
<line x1="332.00" x2="334.50" y1="142.40" y2="142.40" stroke="#111" stroke-width="0.8" opacity="0.6"/>
<line x1="332.00" x2="334.50" y1="156.40" y2="156.40" stroke="#111" stroke-width="0.8" opacity="0.6"/>
<line x1="332.00" x2="334.50" y1="170.40" y2="170.40" stroke="#111" stroke-width="0.8" opacity="0.6"/>
<line x1="332.00" x2="334.50" y1="184.40" y2="184.40" stroke="#111" stroke-width="0.8" opacity="0.6"/>
<line x1="332.00" x2="334.50" y1="198.40" y2="198.40" stroke="#111" stroke-width="0.8" opacity="0.6"/>
<line x1="586.50" x2="589.00" y1="30.40" y2="30.40" stroke="#111" stroke-width="0.8" opacity="0.5"/>
<line x1="586.50" x2="589.00" y1="44.40" y2="44.40" stroke="#111" stroke-width="0.8" opacity="0.5"/>
<line x1="586.50" x2="589.00" y1="58.40" y2="58.40" stroke="#111" stroke-width="0.8" opacity="0.5"/>
<line x1="586.50" x2="589.00" y1="72.40" y2="72.40" stroke="#111" stroke-width="0.8" opacity="0.5"/>
<line x1="586.50" x2="589.00" y1="86.40" y2="86.40" stroke="#111" stroke-width="0.8" opacity="0.5"/>
<line x1="586.50" x2="589.00" y1="100.40" y2="100.40" stroke="#111" stroke-width="0.8" opacity="0.5"/>
<line x1="586.50" x2="589.00" y1="114.40" y2="114.40" stroke="#111" stroke-width="0.8" opacity="0.5"/>
<line x1="586.50" x2="589.00" y1="128.40" y2="128.40" stroke="#111" stroke-width="0.8" opacity="0.5"/>
<line x1="586.50" x2="589.00" y1="142.40" y2="142.40" stroke="#111" stroke-width="0.8" opacity="0.5"/>
<line x1="586.50" x2="589.00" y1="156.40" y2="156.40" stroke="#111" stroke-width="0.8" opacity="0.5"/>
<line x1="586.50" x2="589.00" y1="170.40" y2="170.40" stroke="#111" stroke-width="0.8" opacity="0.5"/>
<line x1="586.50" x2="589.00" y1="184.40" y2="184.40" stroke="#111" stroke-width="0.8" opacity="0.5"/>
<line x1="586.50" x2="589.00" y1="198.40" y2="198.40" stroke="#111" stroke-width="0.8" opacity="0.5"/>
<line x1="385.50" x2="385.50" y1="200.00" y2="197.50" stroke="#111" stroke-width="0.8" opacity="0.6"/>
<line x1="385.50" x2="385.50" y1="15.00" y2="17.50" stroke="#111" stroke-width="0.8" opacity="0.6"/>
<line x1="456.40" x2="456.40" y1="200.00" y2="197.50" stroke="#111" stroke-width="0.8" opacity="0.6"/>
<line x1="456.40" x2="456.40" y1="15.00" y2="17.50" stroke="#111" stroke-width="0.8" opacity="0.6"/>
<line x1="527.60" x2="527.60" y1="200.00" y2="197.50" stroke="#111" stroke-width="0.8" opacity="0.6"/>
<line x1="527.60" x2="527.60" y1="15.00" y2="17.50" stroke="#111" stroke-width="0.8" opacity="0.6"/>
<ellipse cx="456.60" cy="100.20" rx="57.00" ry="56.80" fill="none" stroke="#111" stroke-width="0.9" opacity="0.85"/>
<line x1="332.00" x2="589.00" y1="29.00" y2="29.00" stroke="#140a28" stroke-width="1.4"/>
<line x1="332.00" x2="589.00" y1="29.00" y2="29.00" stroke="#b8103c" stroke-width="1.4" stroke-dasharray="2.4 1.6"/>
<line x1="332.00" x2="589.00" y1="100.40" y2="100.40" stroke="#e8102a" stroke-width="1" stroke-dasharray="2.5 1.5" opacity="0.85"/>
<line x1="571.80" x2="571.80" y1="32.40" y2="96.90" stroke="#e01030" stroke-width="1" opacity="0.85"/>
<path d="M571.80 29.40L569.10 36.40L574.50 36.40Z" fill="#f01020"/>
<path d="M571.80 99.90L569.10 92.90L574.50 92.90Z" fill="#f01020"/>
<text x="549.50" y="63.00" font-size="8.6" fill="#ff0a24" stroke="#ff0a24" stroke-width="0.45" textLength="19.0" lengthAdjust="spacingAndGlyphs">5μm</text>
<g filter="url(#jet)"><rect x="591.30" y="15.80" width="8.20" height="183.80" fill="url(#cbb)"/></g>
<rect x="591.60" y="16.10" width="7.60" height="183.20" fill="none" stroke="#222" stroke-width="0.6" opacity="0.6"/>
<line x1="591.30" x2="592.80" y1="17.40" y2="17.40" stroke="#111" stroke-width="0.8"/>
<line x1="598.00" x2="599.50" y1="17.40" y2="17.40" stroke="#111" stroke-width="0.8"/>
<text x="602.80" y="20.45" font-size="8.50" fill="#3a3a3a" stroke="#3a3a3a" stroke-width="0.2" textLength="12.4" lengthAdjust="spacingAndGlyphs">250</text>
<line x1="591.30" x2="592.80" y1="53.84" y2="53.84" stroke="#111" stroke-width="0.8"/>
<line x1="598.00" x2="599.50" y1="53.84" y2="53.84" stroke="#111" stroke-width="0.8"/>
<text x="602.80" y="56.89" font-size="8.50" fill="#3a3a3a" stroke="#3a3a3a" stroke-width="0.2" textLength="12.4" lengthAdjust="spacingAndGlyphs">200</text>
<line x1="591.30" x2="592.80" y1="90.28" y2="90.28" stroke="#111" stroke-width="0.8"/>
<line x1="598.00" x2="599.50" y1="90.28" y2="90.28" stroke="#111" stroke-width="0.8"/>
<text x="602.80" y="93.32" font-size="8.50" fill="#3a3a3a" stroke="#3a3a3a" stroke-width="0.2" textLength="12.4" lengthAdjust="spacingAndGlyphs">150</text>
<line x1="591.30" x2="592.80" y1="126.72" y2="126.72" stroke="#111" stroke-width="0.8"/>
<line x1="598.00" x2="599.50" y1="126.72" y2="126.72" stroke="#111" stroke-width="0.8"/>
<text x="602.80" y="129.76" font-size="8.50" fill="#3a3a3a" stroke="#3a3a3a" stroke-width="0.2" textLength="12.4" lengthAdjust="spacingAndGlyphs">100</text>
<line x1="591.30" x2="592.80" y1="163.16" y2="163.16" stroke="#111" stroke-width="0.8"/>
<line x1="598.00" x2="599.50" y1="163.16" y2="163.16" stroke="#111" stroke-width="0.8"/>
<text x="602.80" y="166.20" font-size="8.50" fill="#3a3a3a" stroke="#3a3a3a" stroke-width="0.2" textLength="8.3" lengthAdjust="spacingAndGlyphs">50</text>
<text x="328.00" y="31.13" font-size="7.00" fill="#333" stroke="#333" stroke-width="0.15" text-anchor="end">5</text>
<text x="328.00" y="45.13" font-size="7.00" fill="#333" stroke="#333" stroke-width="0.15" text-anchor="end">4</text>
<text x="328.00" y="59.13" font-size="7.00" fill="#333" stroke="#333" stroke-width="0.15" text-anchor="end">3</text>
<text x="328.00" y="73.13" font-size="7.00" fill="#333" stroke="#333" stroke-width="0.15" text-anchor="end">2</text>
<text x="328.00" y="87.13" font-size="7.00" fill="#333" stroke="#333" stroke-width="0.15" text-anchor="end">1</text>
<text x="328.00" y="101.13" font-size="7.00" fill="#333" stroke="#333" stroke-width="0.15" text-anchor="end">0</text>
<text x="328.00" y="115.13" font-size="7.00" fill="#333" stroke="#333" stroke-width="0.15" text-anchor="end">-1</text>
<text x="328.00" y="129.13" font-size="7.00" fill="#333" stroke="#333" stroke-width="0.15" text-anchor="end">-2</text>
<text x="328.00" y="143.13" font-size="7.00" fill="#333" stroke="#333" stroke-width="0.15" text-anchor="end">-3</text>
<text x="328.00" y="157.13" font-size="7.00" fill="#333" stroke="#333" stroke-width="0.15" text-anchor="end">-4</text>
<text x="328.00" y="171.13" font-size="7.00" fill="#333" stroke="#333" stroke-width="0.15" text-anchor="end">-5</text>
<text x="328.00" y="185.13" font-size="7.00" fill="#333" stroke="#333" stroke-width="0.15" text-anchor="end">-6</text>
<text x="328.00" y="199.13" font-size="7.00" fill="#333" stroke="#333" stroke-width="0.15" text-anchor="end">-7</text>
<text x="384.40" y="210.03" font-size="7.00" fill="#333" stroke="#333" stroke-width="0.15" text-anchor="middle">-5</text>
<text x="456.70" y="210.03" font-size="7.00" fill="#333" stroke="#333" stroke-width="0.15" text-anchor="middle">0</text>
<text x="528.40" y="210.03" font-size="7.00" fill="#333" stroke="#333" stroke-width="0.15" text-anchor="middle">5</text>
<text x="456.30" y="219.50" font-size="9.2" font-weight="bold" font-style="italic" fill="#222" text-anchor="middle">y(μm)</text>
<text transform="translate(319.20 98.50) rotate(-90)" font-size="8.6" font-weight="bold" font-style="italic" fill="#222" text-anchor="middle">x(μm)</text>
<text x="313.30" y="11.30" font-size="11.2" font-weight="bold" fill="#222">(b)</text>
<g clip-path="url(#cpc)"><g filter="url(#jet)">
<rect x="23.00" y="230.00" width="251.00" height="186.00" fill="url(#flc)"/>
<rect x="23.00" y="230.00" width="251.00" height="186.00" fill="url(#rgc0)" style="mix-blend-mode:screen;mix-blend-mode:plus-lighter"/>
<rect x="23.00" y="230.00" width="251.00" height="186.00" fill="url(#rgc1)" style="mix-blend-mode:screen;mix-blend-mode:plus-lighter"/>
<rect x="23.00" y="230.00" width="251.00" height="186.00" fill="url(#rgcp0)" style="mix-blend-mode:screen;mix-blend-mode:plus-lighter"/>
<rect x="23.00" y="230.00" width="251.00" height="186.00" fill="url(#rgcp1)" style="mix-blend-mode:screen;mix-blend-mode:plus-lighter"/>
<rect x="23.00" y="230.00" width="251.00" height="186.00" fill="url(#rgcp2)"/>
<rect x="23.00" y="230.00" width="251.00" height="186.00" fill="url(#rgcp3)"/>
<rect x="23.00" y="230.00" width="251.00" height="186.00" fill="url(#rgcp4)" style="mix-blend-mode:screen;mix-blend-mode:plus-lighter"/>
<rect x="23.00" y="230.00" width="251.00" height="13.70" fill="rgb(0,0,0)"/>
</g></g>
<rect x="23.00" y="230.00" width="1" height="186.00" fill="#333" opacity="0.45"/>
<rect x="23.00" y="415.00" width="251.00" height="1" fill="#333" opacity="0.3"/>
<line x1="23.00" x2="25.50" y1="243.70" y2="243.70" stroke="#111" stroke-width="0.8" opacity="0.6"/>
<line x1="23.00" x2="25.50" y1="257.60" y2="257.60" stroke="#111" stroke-width="0.8" opacity="0.6"/>
<line x1="23.00" x2="25.50" y1="271.50" y2="271.50" stroke="#111" stroke-width="0.8" opacity="0.6"/>
<line x1="23.00" x2="25.50" y1="285.40" y2="285.40" stroke="#111" stroke-width="0.8" opacity="0.6"/>
<line x1="23.00" x2="25.50" y1="299.30" y2="299.30" stroke="#111" stroke-width="0.8" opacity="0.6"/>
<line x1="23.00" x2="25.50" y1="313.20" y2="313.20" stroke="#111" stroke-width="0.8" opacity="0.6"/>
<line x1="23.00" x2="25.50" y1="327.10" y2="327.10" stroke="#111" stroke-width="0.8" opacity="0.6"/>
<line x1="23.00" x2="25.50" y1="341.00" y2="341.00" stroke="#111" stroke-width="0.8" opacity="0.6"/>
<line x1="23.00" x2="25.50" y1="354.90" y2="354.90" stroke="#111" stroke-width="0.8" opacity="0.6"/>
<line x1="23.00" x2="25.50" y1="368.80" y2="368.80" stroke="#111" stroke-width="0.8" opacity="0.6"/>
<line x1="23.00" x2="25.50" y1="382.70" y2="382.70" stroke="#111" stroke-width="0.8" opacity="0.6"/>
<line x1="23.00" x2="25.50" y1="396.60" y2="396.60" stroke="#111" stroke-width="0.8" opacity="0.6"/>
<line x1="23.00" x2="25.50" y1="410.50" y2="410.50" stroke="#111" stroke-width="0.8" opacity="0.6"/>
<line x1="271.50" x2="274.00" y1="243.70" y2="243.70" stroke="#111" stroke-width="0.8" opacity="0.5"/>
<line x1="271.50" x2="274.00" y1="257.60" y2="257.60" stroke="#111" stroke-width="0.8" opacity="0.5"/>
<line x1="271.50" x2="274.00" y1="271.50" y2="271.50" stroke="#111" stroke-width="0.8" opacity="0.5"/>
<line x1="271.50" x2="274.00" y1="285.40" y2="285.40" stroke="#111" stroke-width="0.8" opacity="0.5"/>
<line x1="271.50" x2="274.00" y1="299.30" y2="299.30" stroke="#111" stroke-width="0.8" opacity="0.5"/>
<line x1="271.50" x2="274.00" y1="313.20" y2="313.20" stroke="#111" stroke-width="0.8" opacity="0.5"/>
<line x1="271.50" x2="274.00" y1="327.10" y2="327.10" stroke="#111" stroke-width="0.8" opacity="0.5"/>
<line x1="271.50" x2="274.00" y1="341.00" y2="341.00" stroke="#111" stroke-width="0.8" opacity="0.5"/>
<line x1="271.50" x2="274.00" y1="354.90" y2="354.90" stroke="#111" stroke-width="0.8" opacity="0.5"/>
<line x1="271.50" x2="274.00" y1="368.80" y2="368.80" stroke="#111" stroke-width="0.8" opacity="0.5"/>
<line x1="271.50" x2="274.00" y1="382.70" y2="382.70" stroke="#111" stroke-width="0.8" opacity="0.5"/>
<line x1="271.50" x2="274.00" y1="396.60" y2="396.60" stroke="#111" stroke-width="0.8" opacity="0.5"/>
<line x1="271.50" x2="274.00" y1="410.50" y2="410.50" stroke="#111" stroke-width="0.8" opacity="0.5"/>
<line x1="75.80" x2="75.80" y1="416.00" y2="413.50" stroke="#111" stroke-width="0.8" opacity="0.6"/>
<line x1="75.80" x2="75.80" y1="230.00" y2="232.50" stroke="#111" stroke-width="0.8" opacity="0.6"/>
<line x1="144.60" x2="144.60" y1="416.00" y2="413.50" stroke="#111" stroke-width="0.8" opacity="0.6"/>
<line x1="144.60" x2="144.60" y1="230.00" y2="232.50" stroke="#111" stroke-width="0.8" opacity="0.6"/>
<line x1="213.20" x2="213.20" y1="416.00" y2="413.50" stroke="#111" stroke-width="0.8" opacity="0.6"/>
<line x1="213.20" x2="213.20" y1="230.00" y2="232.50" stroke="#111" stroke-width="0.8" opacity="0.6"/>
<ellipse cx="144.60" cy="327.80" rx="55.20" ry="56.10" fill="none" stroke="#111" stroke-width="0.9" opacity="0.85"/>
<line x1="23.00" x2="274.00" y1="243.70" y2="243.70" stroke="#140a28" stroke-width="1.4"/>
<line x1="23.00" x2="274.00" y1="243.70" y2="243.70" stroke="#b8103c" stroke-width="1.4" stroke-dasharray="2.4 1.6"/>
<line x1="23.00" x2="274.00" y1="328.30" y2="328.30" stroke="#e8102a" stroke-width="1" stroke-dasharray="2.5 1.5" opacity="0.85"/>
<line x1="253.90" x2="253.90" y1="247.00" y2="324.80" stroke="#e01030" stroke-width="1" opacity="0.85"/>
<path d="M253.90 244.00L251.20 251.00L256.60 251.00Z" fill="#f01020"/>
<path d="M253.90 327.80L251.20 320.80L256.60 320.80Z" fill="#f01020"/>
<text x="226.50" y="288.00" font-size="8.6" fill="#ff0a24" stroke="#ff0a24" stroke-width="0.45" textLength="19.9" lengthAdjust="spacingAndGlyphs">6μm</text>
<g filter="url(#jet)"><rect x="275.70" y="229.80" width="8.00" height="185.80" fill="url(#cbc)"/></g>
<rect x="276.00" y="230.10" width="7.40" height="185.20" fill="none" stroke="#222" stroke-width="0.6" opacity="0.6"/>
<line x1="275.70" x2="277.20" y1="232.51" y2="232.51" stroke="#111" stroke-width="0.8"/>
<line x1="282.20" x2="283.70" y1="232.51" y2="232.51" stroke="#111" stroke-width="0.8"/>
<text x="287.80" y="235.55" font-size="8.50" fill="#3a3a3a" stroke="#3a3a3a" stroke-width="0.2" textLength="12.4" lengthAdjust="spacingAndGlyphs">250</text>
<line x1="275.70" x2="277.20" y1="269.13" y2="269.13" stroke="#111" stroke-width="0.8"/>
<line x1="282.20" x2="283.70" y1="269.13" y2="269.13" stroke="#111" stroke-width="0.8"/>
<text x="287.80" y="272.17" font-size="8.50" fill="#3a3a3a" stroke="#3a3a3a" stroke-width="0.2" textLength="12.4" lengthAdjust="spacingAndGlyphs">200</text>
<line x1="275.70" x2="277.20" y1="305.75" y2="305.75" stroke="#111" stroke-width="0.8"/>
<line x1="282.20" x2="283.70" y1="305.75" y2="305.75" stroke="#111" stroke-width="0.8"/>
<text x="287.80" y="308.79" font-size="8.50" fill="#3a3a3a" stroke="#3a3a3a" stroke-width="0.2" textLength="12.4" lengthAdjust="spacingAndGlyphs">150</text>
<line x1="275.70" x2="277.20" y1="342.36" y2="342.36" stroke="#111" stroke-width="0.8"/>
<line x1="282.20" x2="283.70" y1="342.36" y2="342.36" stroke="#111" stroke-width="0.8"/>
<text x="287.80" y="345.41" font-size="8.50" fill="#3a3a3a" stroke="#3a3a3a" stroke-width="0.2" textLength="12.4" lengthAdjust="spacingAndGlyphs">100</text>
<line x1="275.70" x2="277.20" y1="378.98" y2="378.98" stroke="#111" stroke-width="0.8"/>
<line x1="282.20" x2="283.70" y1="378.98" y2="378.98" stroke="#111" stroke-width="0.8"/>
<text x="287.80" y="382.02" font-size="8.50" fill="#3a3a3a" stroke="#3a3a3a" stroke-width="0.2" textLength="8.3" lengthAdjust="spacingAndGlyphs">50</text>
<text x="18.30" y="246.73" font-size="7.00" fill="#333" stroke="#333" stroke-width="0.15" text-anchor="end">6</text>
<text x="18.30" y="260.63" font-size="7.00" fill="#333" stroke="#333" stroke-width="0.15" text-anchor="end">5</text>
<text x="18.30" y="274.53" font-size="7.00" fill="#333" stroke="#333" stroke-width="0.15" text-anchor="end">4</text>
<text x="18.30" y="288.43" font-size="7.00" fill="#333" stroke="#333" stroke-width="0.15" text-anchor="end">3</text>
<text x="18.30" y="302.33" font-size="7.00" fill="#333" stroke="#333" stroke-width="0.15" text-anchor="end">2</text>
<text x="18.30" y="316.23" font-size="7.00" fill="#333" stroke="#333" stroke-width="0.15" text-anchor="end">1</text>
<text x="18.30" y="330.13" font-size="7.00" fill="#333" stroke="#333" stroke-width="0.15" text-anchor="end">0</text>
<text x="18.30" y="344.03" font-size="7.00" fill="#333" stroke="#333" stroke-width="0.15" text-anchor="end">-1</text>
<text x="18.30" y="357.93" font-size="7.00" fill="#333" stroke="#333" stroke-width="0.15" text-anchor="end">-2</text>
<text x="18.30" y="371.83" font-size="7.00" fill="#333" stroke="#333" stroke-width="0.15" text-anchor="end">-3</text>
<text x="18.30" y="385.73" font-size="7.00" fill="#333" stroke="#333" stroke-width="0.15" text-anchor="end">-4</text>
<text x="18.30" y="399.63" font-size="7.00" fill="#333" stroke="#333" stroke-width="0.15" text-anchor="end">-5</text>
<text x="18.30" y="413.53" font-size="7.00" fill="#333" stroke="#333" stroke-width="0.15" text-anchor="end">-6</text>
<text x="76.50" y="426.13" font-size="7.00" fill="#333" stroke="#333" stroke-width="0.15" text-anchor="middle">-5</text>
<text x="144.30" y="426.13" font-size="7.00" fill="#333" stroke="#333" stroke-width="0.15" text-anchor="middle">0</text>
<text x="211.30" y="426.13" font-size="7.00" fill="#333" stroke="#333" stroke-width="0.15" text-anchor="middle">5</text>
<text x="143.80" y="434.50" font-size="9.2" font-weight="bold" font-style="italic" fill="#222" text-anchor="middle">y(μm)</text>
<text transform="translate(8.70 326.00) rotate(-90)" font-size="8.6" font-weight="bold" font-style="italic" fill="#222" text-anchor="middle">x(μm)</text>
<text x="13.00" y="224.10" font-size="11.2" font-weight="bold" fill="#222">(c)</text>
<g clip-path="url(#cpd)"><g filter="url(#jet)">
<rect x="333.00" y="231.00" width="255.00" height="185.00" fill="url(#fld)"/>
<rect x="333.00" y="231.00" width="255.00" height="185.00" fill="url(#rgd0)" style="mix-blend-mode:screen;mix-blend-mode:plus-lighter"/>
<rect x="333.00" y="231.00" width="255.00" height="185.00" fill="url(#rgd1)" style="mix-blend-mode:screen;mix-blend-mode:plus-lighter"/>
<rect x="333.00" y="231.00" width="255.00" height="185.00" fill="url(#rgdp0)" style="mix-blend-mode:screen;mix-blend-mode:plus-lighter"/>
<rect x="333.00" y="231.00" width="255.00" height="185.00" fill="url(#rgdp1)" style="mix-blend-mode:screen;mix-blend-mode:plus-lighter"/>
<rect x="333.00" y="231.00" width="255.00" height="185.00" fill="url(#rgdp2)"/>
<rect x="333.00" y="231.00" width="255.00" height="185.00" fill="url(#rgdp3)"/>
<rect x="333.00" y="231.00" width="255.00" height="185.00" fill="url(#rgdp4)" style="mix-blend-mode:screen;mix-blend-mode:plus-lighter"/>
<rect x="333.00" y="231.00" width="255.00" height="9.60" fill="rgb(0,0,0)"/>
</g></g>
<rect x="333.00" y="231.00" width="1" height="185.00" fill="#333" opacity="0.45"/>
<rect x="333.00" y="415.00" width="255.00" height="1" fill="#333" opacity="0.3"/>
<line x1="333.00" x2="335.50" y1="240.80" y2="240.80" stroke="#111" stroke-width="0.8" opacity="0.6"/>
<line x1="333.00" x2="335.50" y1="253.70" y2="253.70" stroke="#111" stroke-width="0.8" opacity="0.6"/>
<line x1="333.00" x2="335.50" y1="266.60" y2="266.60" stroke="#111" stroke-width="0.8" opacity="0.6"/>
<line x1="333.00" x2="335.50" y1="279.50" y2="279.50" stroke="#111" stroke-width="0.8" opacity="0.6"/>
<line x1="333.00" x2="335.50" y1="292.40" y2="292.40" stroke="#111" stroke-width="0.8" opacity="0.6"/>
<line x1="333.00" x2="335.50" y1="305.30" y2="305.30" stroke="#111" stroke-width="0.8" opacity="0.6"/>
<line x1="333.00" x2="335.50" y1="318.20" y2="318.20" stroke="#111" stroke-width="0.8" opacity="0.6"/>
<line x1="333.00" x2="335.50" y1="331.10" y2="331.10" stroke="#111" stroke-width="0.8" opacity="0.6"/>
<line x1="333.00" x2="335.50" y1="344.00" y2="344.00" stroke="#111" stroke-width="0.8" opacity="0.6"/>
<line x1="333.00" x2="335.50" y1="356.90" y2="356.90" stroke="#111" stroke-width="0.8" opacity="0.6"/>
<line x1="333.00" x2="335.50" y1="369.80" y2="369.80" stroke="#111" stroke-width="0.8" opacity="0.6"/>
<line x1="333.00" x2="335.50" y1="382.70" y2="382.70" stroke="#111" stroke-width="0.8" opacity="0.6"/>
<line x1="333.00" x2="335.50" y1="395.60" y2="395.60" stroke="#111" stroke-width="0.8" opacity="0.6"/>
<line x1="333.00" x2="335.50" y1="408.50" y2="408.50" stroke="#111" stroke-width="0.8" opacity="0.6"/>
<line x1="585.50" x2="588.00" y1="240.80" y2="240.80" stroke="#111" stroke-width="0.8" opacity="0.5"/>
<line x1="585.50" x2="588.00" y1="253.70" y2="253.70" stroke="#111" stroke-width="0.8" opacity="0.5"/>
<line x1="585.50" x2="588.00" y1="266.60" y2="266.60" stroke="#111" stroke-width="0.8" opacity="0.5"/>
<line x1="585.50" x2="588.00" y1="279.50" y2="279.50" stroke="#111" stroke-width="0.8" opacity="0.5"/>
<line x1="585.50" x2="588.00" y1="292.40" y2="292.40" stroke="#111" stroke-width="0.8" opacity="0.5"/>
<line x1="585.50" x2="588.00" y1="305.30" y2="305.30" stroke="#111" stroke-width="0.8" opacity="0.5"/>
<line x1="585.50" x2="588.00" y1="318.20" y2="318.20" stroke="#111" stroke-width="0.8" opacity="0.5"/>
<line x1="585.50" x2="588.00" y1="331.10" y2="331.10" stroke="#111" stroke-width="0.8" opacity="0.5"/>
<line x1="585.50" x2="588.00" y1="344.00" y2="344.00" stroke="#111" stroke-width="0.8" opacity="0.5"/>
<line x1="585.50" x2="588.00" y1="356.90" y2="356.90" stroke="#111" stroke-width="0.8" opacity="0.5"/>
<line x1="585.50" x2="588.00" y1="369.80" y2="369.80" stroke="#111" stroke-width="0.8" opacity="0.5"/>
<line x1="585.50" x2="588.00" y1="382.70" y2="382.70" stroke="#111" stroke-width="0.8" opacity="0.5"/>
<line x1="585.50" x2="588.00" y1="395.60" y2="395.60" stroke="#111" stroke-width="0.8" opacity="0.5"/>
<line x1="585.50" x2="588.00" y1="408.50" y2="408.50" stroke="#111" stroke-width="0.8" opacity="0.5"/>
<line x1="392.30" x2="392.30" y1="416.00" y2="413.50" stroke="#111" stroke-width="0.8" opacity="0.6"/>
<line x1="392.30" x2="392.30" y1="231.00" y2="233.50" stroke="#111" stroke-width="0.8" opacity="0.6"/>
<line x1="456.20" x2="456.20" y1="416.00" y2="413.50" stroke="#111" stroke-width="0.8" opacity="0.6"/>
<line x1="456.20" x2="456.20" y1="231.00" y2="233.50" stroke="#111" stroke-width="0.8" opacity="0.6"/>
<line x1="519.50" x2="519.50" y1="416.00" y2="413.50" stroke="#111" stroke-width="0.8" opacity="0.6"/>
<line x1="519.50" x2="519.50" y1="231.00" y2="233.50" stroke="#111" stroke-width="0.8" opacity="0.6"/>
<ellipse cx="455.60" cy="330.20" rx="51.20" ry="51.30" fill="none" stroke="#111" stroke-width="0.9" opacity="0.85"/>
<line x1="333.00" x2="588.00" y1="240.60" y2="240.60" stroke="#140a28" stroke-width="1.4"/>
<line x1="333.00" x2="588.00" y1="240.60" y2="240.60" stroke="#b8103c" stroke-width="1.4" stroke-dasharray="2.4 1.6"/>
<line x1="333.00" x2="588.00" y1="330.60" y2="330.60" stroke="#e8102a" stroke-width="1" stroke-dasharray="2.5 1.5" opacity="0.85"/>
<line x1="568.60" x2="568.60" y1="244.00" y2="327.20" stroke="#e01030" stroke-width="1" opacity="0.85"/>
<path d="M568.60 241.00L565.90 248.00L571.30 248.00Z" fill="#f01020"/>
<path d="M568.60 330.20L565.90 323.20L571.30 323.20Z" fill="#f01020"/>
<text x="545.40" y="289.00" font-size="8.6" fill="#ff0a24" stroke="#ff0a24" stroke-width="0.45" textLength="19.5" lengthAdjust="spacingAndGlyphs">7μm</text>
<g filter="url(#jet)"><rect x="590.30" y="230.70" width="7.50" height="185.10" fill="url(#cbd)"/></g>
<rect x="590.60" y="231.00" width="6.90" height="184.50" fill="none" stroke="#222" stroke-width="0.6" opacity="0.6"/>
<line x1="590.30" x2="591.80" y1="245.00" y2="245.00" stroke="#111" stroke-width="0.8"/>
<line x1="596.30" x2="597.80" y1="245.00" y2="245.00" stroke="#111" stroke-width="0.8"/>
<text x="602.10" y="247.97" font-size="8.30" fill="#3a3a3a" stroke="#3a3a3a" stroke-width="0.2" textLength="12.4" lengthAdjust="spacingAndGlyphs">350</text>
<line x1="590.30" x2="591.80" y1="269.40" y2="269.40" stroke="#111" stroke-width="0.8"/>
<line x1="596.30" x2="597.80" y1="269.40" y2="269.40" stroke="#111" stroke-width="0.8"/>
<text x="602.10" y="272.37" font-size="8.30" fill="#3a3a3a" stroke="#3a3a3a" stroke-width="0.2" textLength="12.4" lengthAdjust="spacingAndGlyphs">300</text>
<line x1="590.30" x2="591.80" y1="293.80" y2="293.80" stroke="#111" stroke-width="0.8"/>
<line x1="596.30" x2="597.80" y1="293.80" y2="293.80" stroke="#111" stroke-width="0.8"/>
<text x="602.10" y="296.77" font-size="8.30" fill="#3a3a3a" stroke="#3a3a3a" stroke-width="0.2" textLength="12.4" lengthAdjust="spacingAndGlyphs">250</text>
<line x1="590.30" x2="591.80" y1="318.20" y2="318.20" stroke="#111" stroke-width="0.8"/>
<line x1="596.30" x2="597.80" y1="318.20" y2="318.20" stroke="#111" stroke-width="0.8"/>
<text x="602.10" y="321.17" font-size="8.30" fill="#3a3a3a" stroke="#3a3a3a" stroke-width="0.2" textLength="12.4" lengthAdjust="spacingAndGlyphs">200</text>
<line x1="590.30" x2="591.80" y1="342.60" y2="342.60" stroke="#111" stroke-width="0.8"/>
<line x1="596.30" x2="597.80" y1="342.60" y2="342.60" stroke="#111" stroke-width="0.8"/>
<text x="602.10" y="345.57" font-size="8.30" fill="#3a3a3a" stroke="#3a3a3a" stroke-width="0.2" textLength="12.4" lengthAdjust="spacingAndGlyphs">150</text>
<line x1="590.30" x2="591.80" y1="367.00" y2="367.00" stroke="#111" stroke-width="0.8"/>
<line x1="596.30" x2="597.80" y1="367.00" y2="367.00" stroke="#111" stroke-width="0.8"/>
<text x="602.10" y="369.97" font-size="8.30" fill="#3a3a3a" stroke="#3a3a3a" stroke-width="0.2" textLength="12.4" lengthAdjust="spacingAndGlyphs">100</text>
<line x1="590.30" x2="591.80" y1="391.40" y2="391.40" stroke="#111" stroke-width="0.8"/>
<line x1="596.30" x2="597.80" y1="391.40" y2="391.40" stroke="#111" stroke-width="0.8"/>
<text x="602.10" y="394.37" font-size="8.30" fill="#3a3a3a" stroke="#3a3a3a" stroke-width="0.2" textLength="8.3" lengthAdjust="spacingAndGlyphs">50</text>
<text x="329.30" y="243.56" font-size="6.50" fill="#333" stroke="#333" stroke-width="0.15" text-anchor="end">7</text>
<text x="329.30" y="256.46" font-size="6.50" fill="#333" stroke="#333" stroke-width="0.15" text-anchor="end">6</text>
<text x="329.30" y="269.36" font-size="6.50" fill="#333" stroke="#333" stroke-width="0.15" text-anchor="end">5</text>
<text x="329.30" y="282.26" font-size="6.50" fill="#333" stroke="#333" stroke-width="0.15" text-anchor="end">4</text>
<text x="329.30" y="295.16" font-size="6.50" fill="#333" stroke="#333" stroke-width="0.15" text-anchor="end">3</text>
<text x="329.30" y="308.06" font-size="6.50" fill="#333" stroke="#333" stroke-width="0.15" text-anchor="end">2</text>
<text x="329.30" y="320.96" font-size="6.50" fill="#333" stroke="#333" stroke-width="0.15" text-anchor="end">1</text>
<text x="329.30" y="333.86" font-size="6.50" fill="#333" stroke="#333" stroke-width="0.15" text-anchor="end">0</text>
<text x="329.30" y="346.76" font-size="6.50" fill="#333" stroke="#333" stroke-width="0.15" text-anchor="end">-1</text>
<text x="329.30" y="359.66" font-size="6.50" fill="#333" stroke="#333" stroke-width="0.15" text-anchor="end">-2</text>
<text x="329.30" y="372.56" font-size="6.50" fill="#333" stroke="#333" stroke-width="0.15" text-anchor="end">-3</text>
<text x="329.30" y="385.46" font-size="6.50" fill="#333" stroke="#333" stroke-width="0.15" text-anchor="end">-4</text>
<text x="329.30" y="398.36" font-size="6.50" fill="#333" stroke="#333" stroke-width="0.15" text-anchor="end">-5</text>
<text x="329.30" y="411.26" font-size="6.50" fill="#333" stroke="#333" stroke-width="0.15" text-anchor="end">-6</text>
<text x="392.80" y="425.46" font-size="6.50" fill="#333" stroke="#333" stroke-width="0.15" text-anchor="middle">-5</text>
<text x="456.70" y="425.46" font-size="6.50" fill="#333" stroke="#333" stroke-width="0.15" text-anchor="middle">0</text>
<text x="519.80" y="425.46" font-size="6.50" fill="#333" stroke="#333" stroke-width="0.15" text-anchor="middle">5</text>
<text x="456.70" y="434.50" font-size="9.2" font-weight="bold" font-style="italic" fill="#222" text-anchor="middle">y(μm)</text>
<text transform="translate(319.70 330.00) rotate(-90)" font-size="8.6" font-weight="bold" font-style="italic" fill="#222" text-anchor="middle">x(μm)</text>
<text x="318.80" y="223.10" font-size="11.2" font-weight="bold" fill="#222">(d)</text>
    <circle cx="684.6" cy="307" r="0.9" fill="#f08080" opacity="0.6"/>
    </svg>
    </body></html>
